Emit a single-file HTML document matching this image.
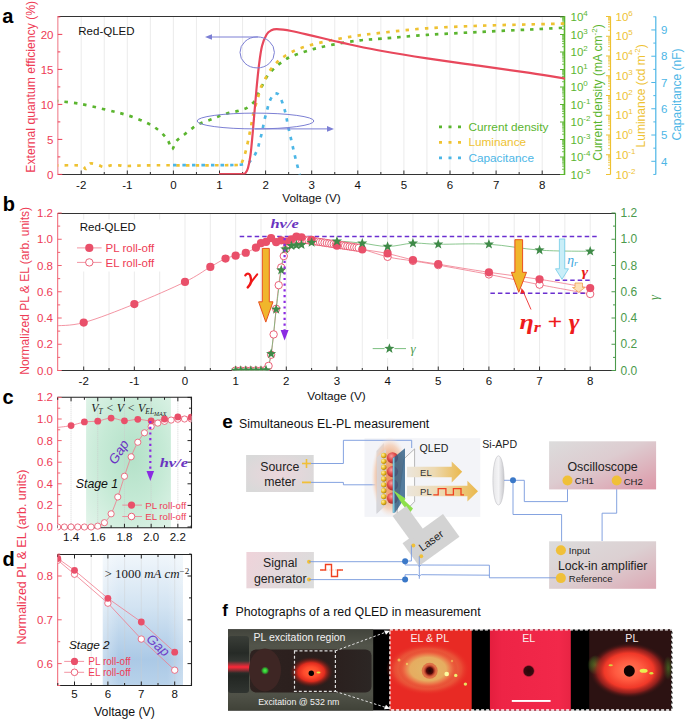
<!DOCTYPE html>
<html><head><meta charset="utf-8"><style>
html,body{margin:0;padding:0;background:#fff;width:685px;height:720px;overflow:hidden}
svg{display:block}
text{white-space:pre}
</style></head><body>
<svg width="685" height="720" viewBox="0 0 685 720">
<rect x="0" y="0" width="685" height="720" fill="#fff"/>
<g id="pa">
<line x1="81.2" y1="16.5" x2="81.2" y2="174.5" stroke="#cdcdcd" stroke-width="0.8" stroke-linecap="butt" stroke-dasharray="1 1" />
<line x1="104.25" y1="16.5" x2="104.25" y2="174.5" stroke="#cdcdcd" stroke-width="0.8" stroke-linecap="butt" stroke-dasharray="1 1" />
<line x1="127.3" y1="16.5" x2="127.3" y2="174.5" stroke="#cdcdcd" stroke-width="0.8" stroke-linecap="butt" stroke-dasharray="1 1" />
<line x1="150.35" y1="16.5" x2="150.35" y2="174.5" stroke="#cdcdcd" stroke-width="0.8" stroke-linecap="butt" stroke-dasharray="1 1" />
<line x1="173.4" y1="16.5" x2="173.4" y2="174.5" stroke="#cdcdcd" stroke-width="0.8" stroke-linecap="butt" stroke-dasharray="1 1" />
<line x1="196.45" y1="16.5" x2="196.45" y2="174.5" stroke="#cdcdcd" stroke-width="0.8" stroke-linecap="butt" stroke-dasharray="1 1" />
<line x1="219.5" y1="16.5" x2="219.5" y2="174.5" stroke="#cdcdcd" stroke-width="0.8" stroke-linecap="butt" stroke-dasharray="1 1" />
<line x1="242.55" y1="16.5" x2="242.55" y2="174.5" stroke="#cdcdcd" stroke-width="0.8" stroke-linecap="butt" stroke-dasharray="1 1" />
<line x1="265.6" y1="16.5" x2="265.6" y2="174.5" stroke="#cdcdcd" stroke-width="0.8" stroke-linecap="butt" stroke-dasharray="1 1" />
<line x1="288.65" y1="16.5" x2="288.65" y2="174.5" stroke="#cdcdcd" stroke-width="0.8" stroke-linecap="butt" stroke-dasharray="1 1" />
<line x1="311.7" y1="16.5" x2="311.7" y2="174.5" stroke="#cdcdcd" stroke-width="0.8" stroke-linecap="butt" stroke-dasharray="1 1" />
<line x1="334.75" y1="16.5" x2="334.75" y2="174.5" stroke="#cdcdcd" stroke-width="0.8" stroke-linecap="butt" stroke-dasharray="1 1" />
<line x1="357.8" y1="16.5" x2="357.8" y2="174.5" stroke="#cdcdcd" stroke-width="0.8" stroke-linecap="butt" stroke-dasharray="1 1" />
<line x1="380.85" y1="16.5" x2="380.85" y2="174.5" stroke="#cdcdcd" stroke-width="0.8" stroke-linecap="butt" stroke-dasharray="1 1" />
<line x1="403.9" y1="16.5" x2="403.9" y2="174.5" stroke="#cdcdcd" stroke-width="0.8" stroke-linecap="butt" stroke-dasharray="1 1" />
<line x1="426.95" y1="16.5" x2="426.95" y2="174.5" stroke="#cdcdcd" stroke-width="0.8" stroke-linecap="butt" stroke-dasharray="1 1" />
<line x1="450" y1="16.5" x2="450" y2="174.5" stroke="#cdcdcd" stroke-width="0.8" stroke-linecap="butt" stroke-dasharray="1 1" />
<line x1="473.05" y1="16.5" x2="473.05" y2="174.5" stroke="#cdcdcd" stroke-width="0.8" stroke-linecap="butt" stroke-dasharray="1 1" />
<line x1="496.1" y1="16.5" x2="496.1" y2="174.5" stroke="#cdcdcd" stroke-width="0.8" stroke-linecap="butt" stroke-dasharray="1 1" />
<line x1="519.15" y1="16.5" x2="519.15" y2="174.5" stroke="#cdcdcd" stroke-width="0.8" stroke-linecap="butt" stroke-dasharray="1 1" />
<line x1="542.2" y1="16.5" x2="542.2" y2="174.5" stroke="#cdcdcd" stroke-width="0.8" stroke-linecap="butt" stroke-dasharray="1 1" />
<line x1="57.8" y1="16.5" x2="565" y2="16.5" stroke="#333" stroke-width="1.1" stroke-linecap="butt" />
<line x1="57.8" y1="174.5" x2="565" y2="174.5" stroke="#333" stroke-width="1.1" stroke-linecap="butt" />
<line x1="57.8" y1="16" x2="57.8" y2="175" stroke="#f4a2ac" stroke-width="1.5" stroke-linecap="butt" />
<line x1="81.2" y1="174.5" x2="81.2" y2="170.5" stroke="#333" stroke-width="1" stroke-linecap="butt" />
<line x1="104.25" y1="174.5" x2="104.25" y2="172" stroke="#333" stroke-width="1" stroke-linecap="butt" />
<line x1="127.3" y1="174.5" x2="127.3" y2="170.5" stroke="#333" stroke-width="1" stroke-linecap="butt" />
<line x1="150.35" y1="174.5" x2="150.35" y2="172" stroke="#333" stroke-width="1" stroke-linecap="butt" />
<line x1="173.4" y1="174.5" x2="173.4" y2="170.5" stroke="#333" stroke-width="1" stroke-linecap="butt" />
<line x1="196.45" y1="174.5" x2="196.45" y2="172" stroke="#333" stroke-width="1" stroke-linecap="butt" />
<line x1="219.5" y1="174.5" x2="219.5" y2="170.5" stroke="#333" stroke-width="1" stroke-linecap="butt" />
<line x1="242.55" y1="174.5" x2="242.55" y2="172" stroke="#333" stroke-width="1" stroke-linecap="butt" />
<line x1="265.6" y1="174.5" x2="265.6" y2="170.5" stroke="#333" stroke-width="1" stroke-linecap="butt" />
<line x1="288.65" y1="174.5" x2="288.65" y2="172" stroke="#333" stroke-width="1" stroke-linecap="butt" />
<line x1="311.7" y1="174.5" x2="311.7" y2="170.5" stroke="#333" stroke-width="1" stroke-linecap="butt" />
<line x1="334.75" y1="174.5" x2="334.75" y2="172" stroke="#333" stroke-width="1" stroke-linecap="butt" />
<line x1="357.8" y1="174.5" x2="357.8" y2="170.5" stroke="#333" stroke-width="1" stroke-linecap="butt" />
<line x1="380.85" y1="174.5" x2="380.85" y2="172" stroke="#333" stroke-width="1" stroke-linecap="butt" />
<line x1="403.9" y1="174.5" x2="403.9" y2="170.5" stroke="#333" stroke-width="1" stroke-linecap="butt" />
<line x1="426.95" y1="174.5" x2="426.95" y2="172" stroke="#333" stroke-width="1" stroke-linecap="butt" />
<line x1="450" y1="174.5" x2="450" y2="170.5" stroke="#333" stroke-width="1" stroke-linecap="butt" />
<line x1="473.05" y1="174.5" x2="473.05" y2="172" stroke="#333" stroke-width="1" stroke-linecap="butt" />
<line x1="496.1" y1="174.5" x2="496.1" y2="170.5" stroke="#333" stroke-width="1" stroke-linecap="butt" />
<line x1="519.15" y1="174.5" x2="519.15" y2="172" stroke="#333" stroke-width="1" stroke-linecap="butt" />
<line x1="542.2" y1="174.5" x2="542.2" y2="170.5" stroke="#333" stroke-width="1" stroke-linecap="butt" />
<text x="81.2" y="189" font-family="'Liberation Sans', sans-serif" font-size="11.5" fill="#111" text-anchor="middle" font-weight="normal" font-style="normal" >-2</text>
<text x="127.3" y="189" font-family="'Liberation Sans', sans-serif" font-size="11.5" fill="#111" text-anchor="middle" font-weight="normal" font-style="normal" >-1</text>
<text x="173.4" y="189" font-family="'Liberation Sans', sans-serif" font-size="11.5" fill="#111" text-anchor="middle" font-weight="normal" font-style="normal" >0</text>
<text x="219.5" y="189" font-family="'Liberation Sans', sans-serif" font-size="11.5" fill="#111" text-anchor="middle" font-weight="normal" font-style="normal" >1</text>
<text x="265.6" y="189" font-family="'Liberation Sans', sans-serif" font-size="11.5" fill="#111" text-anchor="middle" font-weight="normal" font-style="normal" >2</text>
<text x="311.7" y="189" font-family="'Liberation Sans', sans-serif" font-size="11.5" fill="#111" text-anchor="middle" font-weight="normal" font-style="normal" >3</text>
<text x="357.8" y="189" font-family="'Liberation Sans', sans-serif" font-size="11.5" fill="#111" text-anchor="middle" font-weight="normal" font-style="normal" >4</text>
<text x="403.9" y="189" font-family="'Liberation Sans', sans-serif" font-size="11.5" fill="#111" text-anchor="middle" font-weight="normal" font-style="normal" >5</text>
<text x="450" y="189" font-family="'Liberation Sans', sans-serif" font-size="11.5" fill="#111" text-anchor="middle" font-weight="normal" font-style="normal" >6</text>
<text x="496.1" y="189" font-family="'Liberation Sans', sans-serif" font-size="11.5" fill="#111" text-anchor="middle" font-weight="normal" font-style="normal" >7</text>
<text x="542.2" y="189" font-family="'Liberation Sans', sans-serif" font-size="11.5" fill="#111" text-anchor="middle" font-weight="normal" font-style="normal" >8</text>
<text x="311.5" y="202.3" font-family="'Liberation Sans', sans-serif" font-size="11.8" fill="#111" text-anchor="middle" font-weight="normal" font-style="normal" >Voltage (V)</text>
<line x1="57.8" y1="174.4" x2="62.3" y2="174.4" stroke="#ee3b55" stroke-width="1" stroke-linecap="butt" />
<line x1="57.8" y1="156.9" x2="60.3" y2="156.9" stroke="#ee3b55" stroke-width="1" stroke-linecap="butt" />
<text x="53.5" y="178.5" font-family="'Liberation Sans', sans-serif" font-size="11.5" fill="#ee3b55" text-anchor="end" font-weight="normal" font-style="normal" >0</text>
<line x1="57.8" y1="139.4" x2="62.3" y2="139.4" stroke="#ee3b55" stroke-width="1" stroke-linecap="butt" />
<line x1="57.8" y1="121.9" x2="60.3" y2="121.9" stroke="#ee3b55" stroke-width="1" stroke-linecap="butt" />
<text x="53.5" y="143.5" font-family="'Liberation Sans', sans-serif" font-size="11.5" fill="#ee3b55" text-anchor="end" font-weight="normal" font-style="normal" >5</text>
<line x1="57.8" y1="104.4" x2="62.3" y2="104.4" stroke="#ee3b55" stroke-width="1" stroke-linecap="butt" />
<line x1="57.8" y1="86.9" x2="60.3" y2="86.9" stroke="#ee3b55" stroke-width="1" stroke-linecap="butt" />
<text x="53.5" y="108.5" font-family="'Liberation Sans', sans-serif" font-size="11.5" fill="#ee3b55" text-anchor="end" font-weight="normal" font-style="normal" >10</text>
<line x1="57.8" y1="69.4" x2="62.3" y2="69.4" stroke="#ee3b55" stroke-width="1" stroke-linecap="butt" />
<line x1="57.8" y1="51.9" x2="60.3" y2="51.9" stroke="#ee3b55" stroke-width="1" stroke-linecap="butt" />
<text x="53.5" y="73.5" font-family="'Liberation Sans', sans-serif" font-size="11.5" fill="#ee3b55" text-anchor="end" font-weight="normal" font-style="normal" >15</text>
<line x1="57.8" y1="34.4" x2="62.3" y2="34.4" stroke="#ee3b55" stroke-width="1" stroke-linecap="butt" />
<line x1="57.8" y1="16.9" x2="60.3" y2="16.9" stroke="#ee3b55" stroke-width="1" stroke-linecap="butt" />
<text x="53.5" y="38.5" font-family="'Liberation Sans', sans-serif" font-size="11.5" fill="#ee3b55" text-anchor="end" font-weight="normal" font-style="normal" >20</text>
<text x="35.3" y="86.8" font-family="'Liberation Sans', sans-serif" font-size="12.2" fill="#ee3b55" text-anchor="middle" font-weight="normal" font-style="normal" transform="rotate(-90 35.3 86.8)" >External quantum efficiency (%)</text>
<line x1="564.5" y1="16" x2="564.5" y2="175" stroke="#5bb52f" stroke-width="1.6" stroke-linecap="butt" />
<line x1="564.5" y1="174.5" x2="560" y2="174.5" stroke="#5bb52f" stroke-width="1" stroke-linecap="butt" />
<line x1="564.5" y1="169.23" x2="562" y2="169.23" stroke="#5bb52f" stroke-width="0.8" stroke-linecap="butt" />
<line x1="564.5" y1="166.15" x2="562" y2="166.15" stroke="#5bb52f" stroke-width="0.8" stroke-linecap="butt" />
<line x1="564.5" y1="163.96" x2="562" y2="163.96" stroke="#5bb52f" stroke-width="0.8" stroke-linecap="butt" />
<line x1="564.5" y1="162.27" x2="562" y2="162.27" stroke="#5bb52f" stroke-width="0.8" stroke-linecap="butt" />
<line x1="564.5" y1="160.88" x2="562" y2="160.88" stroke="#5bb52f" stroke-width="0.8" stroke-linecap="butt" />
<line x1="564.5" y1="159.71" x2="562" y2="159.71" stroke="#5bb52f" stroke-width="0.8" stroke-linecap="butt" />
<line x1="564.5" y1="158.7" x2="562" y2="158.7" stroke="#5bb52f" stroke-width="0.8" stroke-linecap="butt" />
<line x1="564.5" y1="157.8" x2="562" y2="157.8" stroke="#5bb52f" stroke-width="0.8" stroke-linecap="butt" />
<text x="570.5" y="178.7" font-family="'Liberation Sans', sans-serif" font-size="11.5" fill="#5bb52f" text-anchor="start" font-weight="normal" font-style="normal" >10<tspan dy="-5" font-size="8">-5</tspan></text>
<line x1="564.5" y1="157" x2="560" y2="157" stroke="#5bb52f" stroke-width="1" stroke-linecap="butt" />
<line x1="564.5" y1="151.73" x2="562" y2="151.73" stroke="#5bb52f" stroke-width="0.8" stroke-linecap="butt" />
<line x1="564.5" y1="148.65" x2="562" y2="148.65" stroke="#5bb52f" stroke-width="0.8" stroke-linecap="butt" />
<line x1="564.5" y1="146.46" x2="562" y2="146.46" stroke="#5bb52f" stroke-width="0.8" stroke-linecap="butt" />
<line x1="564.5" y1="144.77" x2="562" y2="144.77" stroke="#5bb52f" stroke-width="0.8" stroke-linecap="butt" />
<line x1="564.5" y1="143.38" x2="562" y2="143.38" stroke="#5bb52f" stroke-width="0.8" stroke-linecap="butt" />
<line x1="564.5" y1="142.21" x2="562" y2="142.21" stroke="#5bb52f" stroke-width="0.8" stroke-linecap="butt" />
<line x1="564.5" y1="141.2" x2="562" y2="141.2" stroke="#5bb52f" stroke-width="0.8" stroke-linecap="butt" />
<line x1="564.5" y1="140.3" x2="562" y2="140.3" stroke="#5bb52f" stroke-width="0.8" stroke-linecap="butt" />
<text x="570.5" y="161.2" font-family="'Liberation Sans', sans-serif" font-size="11.5" fill="#5bb52f" text-anchor="start" font-weight="normal" font-style="normal" >10<tspan dy="-5" font-size="8">-4</tspan></text>
<line x1="564.5" y1="139.5" x2="560" y2="139.5" stroke="#5bb52f" stroke-width="1" stroke-linecap="butt" />
<line x1="564.5" y1="134.23" x2="562" y2="134.23" stroke="#5bb52f" stroke-width="0.8" stroke-linecap="butt" />
<line x1="564.5" y1="131.15" x2="562" y2="131.15" stroke="#5bb52f" stroke-width="0.8" stroke-linecap="butt" />
<line x1="564.5" y1="128.96" x2="562" y2="128.96" stroke="#5bb52f" stroke-width="0.8" stroke-linecap="butt" />
<line x1="564.5" y1="127.27" x2="562" y2="127.27" stroke="#5bb52f" stroke-width="0.8" stroke-linecap="butt" />
<line x1="564.5" y1="125.88" x2="562" y2="125.88" stroke="#5bb52f" stroke-width="0.8" stroke-linecap="butt" />
<line x1="564.5" y1="124.71" x2="562" y2="124.71" stroke="#5bb52f" stroke-width="0.8" stroke-linecap="butt" />
<line x1="564.5" y1="123.7" x2="562" y2="123.7" stroke="#5bb52f" stroke-width="0.8" stroke-linecap="butt" />
<line x1="564.5" y1="122.8" x2="562" y2="122.8" stroke="#5bb52f" stroke-width="0.8" stroke-linecap="butt" />
<text x="570.5" y="143.7" font-family="'Liberation Sans', sans-serif" font-size="11.5" fill="#5bb52f" text-anchor="start" font-weight="normal" font-style="normal" >10<tspan dy="-5" font-size="8">-3</tspan></text>
<line x1="564.5" y1="122" x2="560" y2="122" stroke="#5bb52f" stroke-width="1" stroke-linecap="butt" />
<line x1="564.5" y1="116.73" x2="562" y2="116.73" stroke="#5bb52f" stroke-width="0.8" stroke-linecap="butt" />
<line x1="564.5" y1="113.65" x2="562" y2="113.65" stroke="#5bb52f" stroke-width="0.8" stroke-linecap="butt" />
<line x1="564.5" y1="111.46" x2="562" y2="111.46" stroke="#5bb52f" stroke-width="0.8" stroke-linecap="butt" />
<line x1="564.5" y1="109.77" x2="562" y2="109.77" stroke="#5bb52f" stroke-width="0.8" stroke-linecap="butt" />
<line x1="564.5" y1="108.38" x2="562" y2="108.38" stroke="#5bb52f" stroke-width="0.8" stroke-linecap="butt" />
<line x1="564.5" y1="107.21" x2="562" y2="107.21" stroke="#5bb52f" stroke-width="0.8" stroke-linecap="butt" />
<line x1="564.5" y1="106.2" x2="562" y2="106.2" stroke="#5bb52f" stroke-width="0.8" stroke-linecap="butt" />
<line x1="564.5" y1="105.3" x2="562" y2="105.3" stroke="#5bb52f" stroke-width="0.8" stroke-linecap="butt" />
<text x="570.5" y="126.2" font-family="'Liberation Sans', sans-serif" font-size="11.5" fill="#5bb52f" text-anchor="start" font-weight="normal" font-style="normal" >10<tspan dy="-5" font-size="8">-2</tspan></text>
<line x1="564.5" y1="104.5" x2="560" y2="104.5" stroke="#5bb52f" stroke-width="1" stroke-linecap="butt" />
<line x1="564.5" y1="99.23" x2="562" y2="99.23" stroke="#5bb52f" stroke-width="0.8" stroke-linecap="butt" />
<line x1="564.5" y1="96.15" x2="562" y2="96.15" stroke="#5bb52f" stroke-width="0.8" stroke-linecap="butt" />
<line x1="564.5" y1="93.96" x2="562" y2="93.96" stroke="#5bb52f" stroke-width="0.8" stroke-linecap="butt" />
<line x1="564.5" y1="92.27" x2="562" y2="92.27" stroke="#5bb52f" stroke-width="0.8" stroke-linecap="butt" />
<line x1="564.5" y1="90.88" x2="562" y2="90.88" stroke="#5bb52f" stroke-width="0.8" stroke-linecap="butt" />
<line x1="564.5" y1="89.71" x2="562" y2="89.71" stroke="#5bb52f" stroke-width="0.8" stroke-linecap="butt" />
<line x1="564.5" y1="88.7" x2="562" y2="88.7" stroke="#5bb52f" stroke-width="0.8" stroke-linecap="butt" />
<line x1="564.5" y1="87.8" x2="562" y2="87.8" stroke="#5bb52f" stroke-width="0.8" stroke-linecap="butt" />
<text x="570.5" y="108.7" font-family="'Liberation Sans', sans-serif" font-size="11.5" fill="#5bb52f" text-anchor="start" font-weight="normal" font-style="normal" >10<tspan dy="-5" font-size="8">-1</tspan></text>
<line x1="564.5" y1="87" x2="560" y2="87" stroke="#5bb52f" stroke-width="1" stroke-linecap="butt" />
<line x1="564.5" y1="81.73" x2="562" y2="81.73" stroke="#5bb52f" stroke-width="0.8" stroke-linecap="butt" />
<line x1="564.5" y1="78.65" x2="562" y2="78.65" stroke="#5bb52f" stroke-width="0.8" stroke-linecap="butt" />
<line x1="564.5" y1="76.46" x2="562" y2="76.46" stroke="#5bb52f" stroke-width="0.8" stroke-linecap="butt" />
<line x1="564.5" y1="74.77" x2="562" y2="74.77" stroke="#5bb52f" stroke-width="0.8" stroke-linecap="butt" />
<line x1="564.5" y1="73.38" x2="562" y2="73.38" stroke="#5bb52f" stroke-width="0.8" stroke-linecap="butt" />
<line x1="564.5" y1="72.21" x2="562" y2="72.21" stroke="#5bb52f" stroke-width="0.8" stroke-linecap="butt" />
<line x1="564.5" y1="71.2" x2="562" y2="71.2" stroke="#5bb52f" stroke-width="0.8" stroke-linecap="butt" />
<line x1="564.5" y1="70.3" x2="562" y2="70.3" stroke="#5bb52f" stroke-width="0.8" stroke-linecap="butt" />
<text x="570.5" y="91.2" font-family="'Liberation Sans', sans-serif" font-size="11.5" fill="#5bb52f" text-anchor="start" font-weight="normal" font-style="normal" >10<tspan dy="-5" font-size="8">0</tspan></text>
<line x1="564.5" y1="69.5" x2="560" y2="69.5" stroke="#5bb52f" stroke-width="1" stroke-linecap="butt" />
<line x1="564.5" y1="64.23" x2="562" y2="64.23" stroke="#5bb52f" stroke-width="0.8" stroke-linecap="butt" />
<line x1="564.5" y1="61.15" x2="562" y2="61.15" stroke="#5bb52f" stroke-width="0.8" stroke-linecap="butt" />
<line x1="564.5" y1="58.96" x2="562" y2="58.96" stroke="#5bb52f" stroke-width="0.8" stroke-linecap="butt" />
<line x1="564.5" y1="57.27" x2="562" y2="57.27" stroke="#5bb52f" stroke-width="0.8" stroke-linecap="butt" />
<line x1="564.5" y1="55.88" x2="562" y2="55.88" stroke="#5bb52f" stroke-width="0.8" stroke-linecap="butt" />
<line x1="564.5" y1="54.71" x2="562" y2="54.71" stroke="#5bb52f" stroke-width="0.8" stroke-linecap="butt" />
<line x1="564.5" y1="53.7" x2="562" y2="53.7" stroke="#5bb52f" stroke-width="0.8" stroke-linecap="butt" />
<line x1="564.5" y1="52.8" x2="562" y2="52.8" stroke="#5bb52f" stroke-width="0.8" stroke-linecap="butt" />
<text x="570.5" y="73.7" font-family="'Liberation Sans', sans-serif" font-size="11.5" fill="#5bb52f" text-anchor="start" font-weight="normal" font-style="normal" >10<tspan dy="-5" font-size="8">1</tspan></text>
<line x1="564.5" y1="52" x2="560" y2="52" stroke="#5bb52f" stroke-width="1" stroke-linecap="butt" />
<line x1="564.5" y1="46.73" x2="562" y2="46.73" stroke="#5bb52f" stroke-width="0.8" stroke-linecap="butt" />
<line x1="564.5" y1="43.65" x2="562" y2="43.65" stroke="#5bb52f" stroke-width="0.8" stroke-linecap="butt" />
<line x1="564.5" y1="41.46" x2="562" y2="41.46" stroke="#5bb52f" stroke-width="0.8" stroke-linecap="butt" />
<line x1="564.5" y1="39.77" x2="562" y2="39.77" stroke="#5bb52f" stroke-width="0.8" stroke-linecap="butt" />
<line x1="564.5" y1="38.38" x2="562" y2="38.38" stroke="#5bb52f" stroke-width="0.8" stroke-linecap="butt" />
<line x1="564.5" y1="37.21" x2="562" y2="37.21" stroke="#5bb52f" stroke-width="0.8" stroke-linecap="butt" />
<line x1="564.5" y1="36.2" x2="562" y2="36.2" stroke="#5bb52f" stroke-width="0.8" stroke-linecap="butt" />
<line x1="564.5" y1="35.3" x2="562" y2="35.3" stroke="#5bb52f" stroke-width="0.8" stroke-linecap="butt" />
<text x="570.5" y="56.2" font-family="'Liberation Sans', sans-serif" font-size="11.5" fill="#5bb52f" text-anchor="start" font-weight="normal" font-style="normal" >10<tspan dy="-5" font-size="8">2</tspan></text>
<line x1="564.5" y1="34.5" x2="560" y2="34.5" stroke="#5bb52f" stroke-width="1" stroke-linecap="butt" />
<line x1="564.5" y1="29.23" x2="562" y2="29.23" stroke="#5bb52f" stroke-width="0.8" stroke-linecap="butt" />
<line x1="564.5" y1="26.15" x2="562" y2="26.15" stroke="#5bb52f" stroke-width="0.8" stroke-linecap="butt" />
<line x1="564.5" y1="23.96" x2="562" y2="23.96" stroke="#5bb52f" stroke-width="0.8" stroke-linecap="butt" />
<line x1="564.5" y1="22.27" x2="562" y2="22.27" stroke="#5bb52f" stroke-width="0.8" stroke-linecap="butt" />
<line x1="564.5" y1="20.88" x2="562" y2="20.88" stroke="#5bb52f" stroke-width="0.8" stroke-linecap="butt" />
<line x1="564.5" y1="19.71" x2="562" y2="19.71" stroke="#5bb52f" stroke-width="0.8" stroke-linecap="butt" />
<line x1="564.5" y1="18.7" x2="562" y2="18.7" stroke="#5bb52f" stroke-width="0.8" stroke-linecap="butt" />
<line x1="564.5" y1="17.8" x2="562" y2="17.8" stroke="#5bb52f" stroke-width="0.8" stroke-linecap="butt" />
<text x="570.5" y="38.7" font-family="'Liberation Sans', sans-serif" font-size="11.5" fill="#5bb52f" text-anchor="start" font-weight="normal" font-style="normal" >10<tspan dy="-5" font-size="8">3</tspan></text>
<line x1="564.5" y1="17" x2="560" y2="17" stroke="#5bb52f" stroke-width="1" stroke-linecap="butt" />
<text x="570.5" y="21.2" font-family="'Liberation Sans', sans-serif" font-size="11.5" fill="#5bb52f" text-anchor="start" font-weight="normal" font-style="normal" >10<tspan dy="-5" font-size="8">4</tspan></text>
<text x="601.5" y="92.5" font-family="'Liberation Sans', sans-serif" font-size="12" fill="#5bb52f" text-anchor="middle" font-weight="normal" font-style="normal" transform="rotate(-90 601.5 92.5)" >Current density (mA cm<tspan dy="-5" font-size="8">-2</tspan><tspan dy="5">)</tspan></text>
<line x1="610.5" y1="16.5" x2="610.5" y2="174.5" stroke="#eec232" stroke-width="1.2" stroke-linecap="butt" />
<line x1="610.5" y1="174.5" x2="606" y2="174.5" stroke="#eec232" stroke-width="1" stroke-linecap="butt" />
<line x1="610.5" y1="168.55" x2="608" y2="168.55" stroke="#eec232" stroke-width="0.8" stroke-linecap="butt" />
<line x1="610.5" y1="165.08" x2="608" y2="165.08" stroke="#eec232" stroke-width="0.8" stroke-linecap="butt" />
<line x1="610.5" y1="162.61" x2="608" y2="162.61" stroke="#eec232" stroke-width="0.8" stroke-linecap="butt" />
<line x1="610.5" y1="160.7" x2="608" y2="160.7" stroke="#eec232" stroke-width="0.8" stroke-linecap="butt" />
<line x1="610.5" y1="159.13" x2="608" y2="159.13" stroke="#eec232" stroke-width="0.8" stroke-linecap="butt" />
<line x1="610.5" y1="157.81" x2="608" y2="157.81" stroke="#eec232" stroke-width="0.8" stroke-linecap="butt" />
<line x1="610.5" y1="156.66" x2="608" y2="156.66" stroke="#eec232" stroke-width="0.8" stroke-linecap="butt" />
<line x1="610.5" y1="155.65" x2="608" y2="155.65" stroke="#eec232" stroke-width="0.8" stroke-linecap="butt" />
<text x="615.5" y="178.7" font-family="'Liberation Sans', sans-serif" font-size="11.5" fill="#eec232" text-anchor="start" font-weight="normal" font-style="normal" >10<tspan dy="-5" font-size="8">-2</tspan></text>
<line x1="610.5" y1="154.75" x2="606" y2="154.75" stroke="#eec232" stroke-width="1" stroke-linecap="butt" />
<line x1="610.5" y1="148.8" x2="608" y2="148.8" stroke="#eec232" stroke-width="0.8" stroke-linecap="butt" />
<line x1="610.5" y1="145.33" x2="608" y2="145.33" stroke="#eec232" stroke-width="0.8" stroke-linecap="butt" />
<line x1="610.5" y1="142.86" x2="608" y2="142.86" stroke="#eec232" stroke-width="0.8" stroke-linecap="butt" />
<line x1="610.5" y1="140.95" x2="608" y2="140.95" stroke="#eec232" stroke-width="0.8" stroke-linecap="butt" />
<line x1="610.5" y1="139.38" x2="608" y2="139.38" stroke="#eec232" stroke-width="0.8" stroke-linecap="butt" />
<line x1="610.5" y1="138.06" x2="608" y2="138.06" stroke="#eec232" stroke-width="0.8" stroke-linecap="butt" />
<line x1="610.5" y1="136.91" x2="608" y2="136.91" stroke="#eec232" stroke-width="0.8" stroke-linecap="butt" />
<line x1="610.5" y1="135.9" x2="608" y2="135.9" stroke="#eec232" stroke-width="0.8" stroke-linecap="butt" />
<text x="615.5" y="158.95" font-family="'Liberation Sans', sans-serif" font-size="11.5" fill="#eec232" text-anchor="start" font-weight="normal" font-style="normal" >10<tspan dy="-5" font-size="8">-1</tspan></text>
<line x1="610.5" y1="135" x2="606" y2="135" stroke="#eec232" stroke-width="1" stroke-linecap="butt" />
<line x1="610.5" y1="129.05" x2="608" y2="129.05" stroke="#eec232" stroke-width="0.8" stroke-linecap="butt" />
<line x1="610.5" y1="125.58" x2="608" y2="125.58" stroke="#eec232" stroke-width="0.8" stroke-linecap="butt" />
<line x1="610.5" y1="123.11" x2="608" y2="123.11" stroke="#eec232" stroke-width="0.8" stroke-linecap="butt" />
<line x1="610.5" y1="121.2" x2="608" y2="121.2" stroke="#eec232" stroke-width="0.8" stroke-linecap="butt" />
<line x1="610.5" y1="119.63" x2="608" y2="119.63" stroke="#eec232" stroke-width="0.8" stroke-linecap="butt" />
<line x1="610.5" y1="118.31" x2="608" y2="118.31" stroke="#eec232" stroke-width="0.8" stroke-linecap="butt" />
<line x1="610.5" y1="117.16" x2="608" y2="117.16" stroke="#eec232" stroke-width="0.8" stroke-linecap="butt" />
<line x1="610.5" y1="116.15" x2="608" y2="116.15" stroke="#eec232" stroke-width="0.8" stroke-linecap="butt" />
<text x="615.5" y="139.2" font-family="'Liberation Sans', sans-serif" font-size="11.5" fill="#eec232" text-anchor="start" font-weight="normal" font-style="normal" >10<tspan dy="-5" font-size="8">0</tspan></text>
<line x1="610.5" y1="115.25" x2="606" y2="115.25" stroke="#eec232" stroke-width="1" stroke-linecap="butt" />
<line x1="610.5" y1="109.3" x2="608" y2="109.3" stroke="#eec232" stroke-width="0.8" stroke-linecap="butt" />
<line x1="610.5" y1="105.83" x2="608" y2="105.83" stroke="#eec232" stroke-width="0.8" stroke-linecap="butt" />
<line x1="610.5" y1="103.36" x2="608" y2="103.36" stroke="#eec232" stroke-width="0.8" stroke-linecap="butt" />
<line x1="610.5" y1="101.45" x2="608" y2="101.45" stroke="#eec232" stroke-width="0.8" stroke-linecap="butt" />
<line x1="610.5" y1="99.88" x2="608" y2="99.88" stroke="#eec232" stroke-width="0.8" stroke-linecap="butt" />
<line x1="610.5" y1="98.56" x2="608" y2="98.56" stroke="#eec232" stroke-width="0.8" stroke-linecap="butt" />
<line x1="610.5" y1="97.41" x2="608" y2="97.41" stroke="#eec232" stroke-width="0.8" stroke-linecap="butt" />
<line x1="610.5" y1="96.4" x2="608" y2="96.4" stroke="#eec232" stroke-width="0.8" stroke-linecap="butt" />
<text x="615.5" y="119.45" font-family="'Liberation Sans', sans-serif" font-size="11.5" fill="#eec232" text-anchor="start" font-weight="normal" font-style="normal" >10<tspan dy="-5" font-size="8">1</tspan></text>
<line x1="610.5" y1="95.5" x2="606" y2="95.5" stroke="#eec232" stroke-width="1" stroke-linecap="butt" />
<line x1="610.5" y1="89.55" x2="608" y2="89.55" stroke="#eec232" stroke-width="0.8" stroke-linecap="butt" />
<line x1="610.5" y1="86.08" x2="608" y2="86.08" stroke="#eec232" stroke-width="0.8" stroke-linecap="butt" />
<line x1="610.5" y1="83.61" x2="608" y2="83.61" stroke="#eec232" stroke-width="0.8" stroke-linecap="butt" />
<line x1="610.5" y1="81.7" x2="608" y2="81.7" stroke="#eec232" stroke-width="0.8" stroke-linecap="butt" />
<line x1="610.5" y1="80.13" x2="608" y2="80.13" stroke="#eec232" stroke-width="0.8" stroke-linecap="butt" />
<line x1="610.5" y1="78.81" x2="608" y2="78.81" stroke="#eec232" stroke-width="0.8" stroke-linecap="butt" />
<line x1="610.5" y1="77.66" x2="608" y2="77.66" stroke="#eec232" stroke-width="0.8" stroke-linecap="butt" />
<line x1="610.5" y1="76.65" x2="608" y2="76.65" stroke="#eec232" stroke-width="0.8" stroke-linecap="butt" />
<text x="615.5" y="99.7" font-family="'Liberation Sans', sans-serif" font-size="11.5" fill="#eec232" text-anchor="start" font-weight="normal" font-style="normal" >10<tspan dy="-5" font-size="8">2</tspan></text>
<line x1="610.5" y1="75.75" x2="606" y2="75.75" stroke="#eec232" stroke-width="1" stroke-linecap="butt" />
<line x1="610.5" y1="69.8" x2="608" y2="69.8" stroke="#eec232" stroke-width="0.8" stroke-linecap="butt" />
<line x1="610.5" y1="66.33" x2="608" y2="66.33" stroke="#eec232" stroke-width="0.8" stroke-linecap="butt" />
<line x1="610.5" y1="63.86" x2="608" y2="63.86" stroke="#eec232" stroke-width="0.8" stroke-linecap="butt" />
<line x1="610.5" y1="61.95" x2="608" y2="61.95" stroke="#eec232" stroke-width="0.8" stroke-linecap="butt" />
<line x1="610.5" y1="60.38" x2="608" y2="60.38" stroke="#eec232" stroke-width="0.8" stroke-linecap="butt" />
<line x1="610.5" y1="59.06" x2="608" y2="59.06" stroke="#eec232" stroke-width="0.8" stroke-linecap="butt" />
<line x1="610.5" y1="57.91" x2="608" y2="57.91" stroke="#eec232" stroke-width="0.8" stroke-linecap="butt" />
<line x1="610.5" y1="56.9" x2="608" y2="56.9" stroke="#eec232" stroke-width="0.8" stroke-linecap="butt" />
<text x="615.5" y="79.95" font-family="'Liberation Sans', sans-serif" font-size="11.5" fill="#eec232" text-anchor="start" font-weight="normal" font-style="normal" >10<tspan dy="-5" font-size="8">3</tspan></text>
<line x1="610.5" y1="56" x2="606" y2="56" stroke="#eec232" stroke-width="1" stroke-linecap="butt" />
<line x1="610.5" y1="50.05" x2="608" y2="50.05" stroke="#eec232" stroke-width="0.8" stroke-linecap="butt" />
<line x1="610.5" y1="46.58" x2="608" y2="46.58" stroke="#eec232" stroke-width="0.8" stroke-linecap="butt" />
<line x1="610.5" y1="44.11" x2="608" y2="44.11" stroke="#eec232" stroke-width="0.8" stroke-linecap="butt" />
<line x1="610.5" y1="42.2" x2="608" y2="42.2" stroke="#eec232" stroke-width="0.8" stroke-linecap="butt" />
<line x1="610.5" y1="40.63" x2="608" y2="40.63" stroke="#eec232" stroke-width="0.8" stroke-linecap="butt" />
<line x1="610.5" y1="39.31" x2="608" y2="39.31" stroke="#eec232" stroke-width="0.8" stroke-linecap="butt" />
<line x1="610.5" y1="38.16" x2="608" y2="38.16" stroke="#eec232" stroke-width="0.8" stroke-linecap="butt" />
<line x1="610.5" y1="37.15" x2="608" y2="37.15" stroke="#eec232" stroke-width="0.8" stroke-linecap="butt" />
<text x="615.5" y="60.2" font-family="'Liberation Sans', sans-serif" font-size="11.5" fill="#eec232" text-anchor="start" font-weight="normal" font-style="normal" >10<tspan dy="-5" font-size="8">4</tspan></text>
<line x1="610.5" y1="36.25" x2="606" y2="36.25" stroke="#eec232" stroke-width="1" stroke-linecap="butt" />
<line x1="610.5" y1="30.3" x2="608" y2="30.3" stroke="#eec232" stroke-width="0.8" stroke-linecap="butt" />
<line x1="610.5" y1="26.83" x2="608" y2="26.83" stroke="#eec232" stroke-width="0.8" stroke-linecap="butt" />
<line x1="610.5" y1="24.36" x2="608" y2="24.36" stroke="#eec232" stroke-width="0.8" stroke-linecap="butt" />
<line x1="610.5" y1="22.45" x2="608" y2="22.45" stroke="#eec232" stroke-width="0.8" stroke-linecap="butt" />
<line x1="610.5" y1="20.88" x2="608" y2="20.88" stroke="#eec232" stroke-width="0.8" stroke-linecap="butt" />
<line x1="610.5" y1="19.56" x2="608" y2="19.56" stroke="#eec232" stroke-width="0.8" stroke-linecap="butt" />
<line x1="610.5" y1="18.41" x2="608" y2="18.41" stroke="#eec232" stroke-width="0.8" stroke-linecap="butt" />
<line x1="610.5" y1="17.4" x2="608" y2="17.4" stroke="#eec232" stroke-width="0.8" stroke-linecap="butt" />
<text x="615.5" y="40.45" font-family="'Liberation Sans', sans-serif" font-size="11.5" fill="#eec232" text-anchor="start" font-weight="normal" font-style="normal" >10<tspan dy="-5" font-size="8">5</tspan></text>
<line x1="610.5" y1="16.5" x2="606" y2="16.5" stroke="#eec232" stroke-width="1" stroke-linecap="butt" />
<text x="615.5" y="20.7" font-family="'Liberation Sans', sans-serif" font-size="11.5" fill="#eec232" text-anchor="start" font-weight="normal" font-style="normal" >10<tspan dy="-5" font-size="8">6</tspan></text>
<text x="644.8" y="95.8" font-family="'Liberation Sans', sans-serif" font-size="12" fill="#eec232" text-anchor="middle" font-weight="normal" font-style="normal" transform="rotate(-90 644.8 95.8)" >Luminance (cd m<tspan dy="-5" font-size="8">-2</tspan><tspan dy="5">)</tspan></text>
<line x1="655.8" y1="16.5" x2="655.8" y2="174.5" stroke="#4cb6e6" stroke-width="1.2" stroke-linecap="butt" />
<line x1="655.8" y1="161.3" x2="651.3" y2="161.3" stroke="#4cb6e6" stroke-width="1" stroke-linecap="butt" />
<line x1="655.8" y1="174.44" x2="653.3" y2="174.44" stroke="#4cb6e6" stroke-width="1" stroke-linecap="butt" />
<text x="661" y="165.5" font-family="'Liberation Sans', sans-serif" font-size="11.5" fill="#4cb6e6" text-anchor="start" font-weight="normal" font-style="normal" >4</text>
<line x1="655.8" y1="135.03" x2="651.3" y2="135.03" stroke="#4cb6e6" stroke-width="1" stroke-linecap="butt" />
<line x1="655.8" y1="148.17" x2="653.3" y2="148.17" stroke="#4cb6e6" stroke-width="1" stroke-linecap="butt" />
<text x="661" y="139.23" font-family="'Liberation Sans', sans-serif" font-size="11.5" fill="#4cb6e6" text-anchor="start" font-weight="normal" font-style="normal" >5</text>
<line x1="655.8" y1="108.76" x2="651.3" y2="108.76" stroke="#4cb6e6" stroke-width="1" stroke-linecap="butt" />
<line x1="655.8" y1="121.9" x2="653.3" y2="121.9" stroke="#4cb6e6" stroke-width="1" stroke-linecap="butt" />
<text x="661" y="112.96" font-family="'Liberation Sans', sans-serif" font-size="11.5" fill="#4cb6e6" text-anchor="start" font-weight="normal" font-style="normal" >6</text>
<line x1="655.8" y1="82.49" x2="651.3" y2="82.49" stroke="#4cb6e6" stroke-width="1" stroke-linecap="butt" />
<line x1="655.8" y1="95.63" x2="653.3" y2="95.63" stroke="#4cb6e6" stroke-width="1" stroke-linecap="butt" />
<text x="661" y="86.69" font-family="'Liberation Sans', sans-serif" font-size="11.5" fill="#4cb6e6" text-anchor="start" font-weight="normal" font-style="normal" >7</text>
<line x1="655.8" y1="56.22" x2="651.3" y2="56.22" stroke="#4cb6e6" stroke-width="1" stroke-linecap="butt" />
<line x1="655.8" y1="69.36" x2="653.3" y2="69.36" stroke="#4cb6e6" stroke-width="1" stroke-linecap="butt" />
<text x="661" y="60.42" font-family="'Liberation Sans', sans-serif" font-size="11.5" fill="#4cb6e6" text-anchor="start" font-weight="normal" font-style="normal" >8</text>
<line x1="655.8" y1="29.95" x2="651.3" y2="29.95" stroke="#4cb6e6" stroke-width="1" stroke-linecap="butt" />
<line x1="655.8" y1="43.09" x2="653.3" y2="43.09" stroke="#4cb6e6" stroke-width="1" stroke-linecap="butt" />
<text x="661" y="34.15" font-family="'Liberation Sans', sans-serif" font-size="11.5" fill="#4cb6e6" text-anchor="start" font-weight="normal" font-style="normal" >9</text>
<line x1="655.8" y1="16.82" x2="653.3" y2="16.82" stroke="#4cb6e6" stroke-width="1" stroke-linecap="butt" />
<text x="681" y="94.5" font-family="'Liberation Sans', sans-serif" font-size="12" fill="#4cb6e6" text-anchor="middle" font-weight="normal" font-style="normal" transform="rotate(-90 681 94.5)" >Capacitance (nF)</text>
<text x="78.3" y="34.5" font-family="'Liberation Sans', sans-serif" font-size="11.5" fill="#111" text-anchor="start" font-weight="normal" font-style="normal" >Red-QLED</text>
<clipPath id="clipA"><rect x="57.8" y="16.5" width="507.2" height="158.0"/></clipPath>
<g clip-path="url(#clipA)">
<path d="M55,100.8 C59.07,101.28 70.78,102.18 79.4,103.7 C88.02,105.22 98.83,108.02 106.7,109.9 C114.57,111.78 120.22,112.98 126.6,115 C132.98,117.02 139.93,119.67 145,122 C150.07,124.33 153.67,126.58 157,129 C160.33,131.42 163.08,134.42 165,136.5 C166.92,138.58 167.33,139.33 168.5,141.5 C169.67,143.67 170.67,149.58 172,149.5 C173.33,149.42 174.43,143.5 176.5,141 C178.57,138.5 181.77,136.62 184.4,134.5 C187.03,132.38 189.53,130.2 192.3,128.3 C195.07,126.4 197.93,124.55 201,123.1 C204.07,121.65 207.63,120.77 210.7,119.6 C213.77,118.43 216.35,117.22 219.4,116.1 C222.45,114.98 225.78,113.78 229,112.9 C232.22,112.02 235.63,111.67 238.7,110.8 C241.77,109.93 244.77,109.3 247.4,107.7 C250.03,106.1 252.6,103.75 254.5,101.2 C256.4,98.65 257.35,95.32 258.8,92.4 C260.25,89.48 261.73,86.47 263.2,83.7 C264.67,80.93 265.7,78.43 267.6,75.8 C269.5,73.17 272.12,70.23 274.6,67.9 C277.08,65.57 279.7,63.7 282.5,61.8 C285.3,59.9 286.52,58.55 291.4,56.5 C296.28,54.45 304.5,51.55 311.8,49.5 C319.1,47.45 327.17,45.73 335.2,44.2 C343.23,42.67 352.2,41.23 360,40.3 C367.8,39.37 370.83,39.5 382,38.6 C393.17,37.7 410.92,36 427,34.9 C443.08,33.8 461.37,32.9 478.5,32 C495.63,31.1 514.88,30.25 529.8,29.5 C544.72,28.75 561.63,27.83 568,27.5" fill="none" stroke="#5bb52f" stroke-width="2.7" stroke-dasharray="3.5 6"/>
<path d="M55,165.5 C59.17,165.5 74.83,164.92 80,165.5 C85.17,166.08 84.33,169.33 86,169 C87.67,168.67 88,164.17 90,163.5 C92,162.83 95.67,164.42 98,165 C100.33,165.58 101.83,166.95 104,167 C106.17,167.05 108.5,165.58 111,165.3 C113.5,165.02 116.5,165.18 119,165.3 C121.5,165.42 120.83,166 126,166 C131.17,166 137.67,165.42 150,165.3 C162.33,165.18 185.33,165.35 200,165.3 C214.67,165.25 231.12,165.32 238,165 C244.88,164.68 240.17,165.13 241.3,163.4 C242.43,161.67 243.78,157.82 244.8,154.6 C245.82,151.38 246.67,147.32 247.4,144.1 C248.13,140.88 248.6,138.22 249.2,135.3 C249.8,132.38 250.42,129.67 251,126.6 C251.58,123.53 251.98,120.27 252.7,116.9 C253.42,113.53 254.42,109.6 255.3,106.4 C256.18,103.2 257.12,100.77 258,97.7 C258.88,94.63 259.73,90.48 260.6,88 C261.47,85.52 262.47,84.25 263.2,82.8 C263.93,81.35 263.98,81.2 265,79.3 C266.02,77.4 267.55,73.97 269.3,71.4 C271.05,68.83 273.28,66.22 275.5,63.9 C277.72,61.58 278.98,59.9 282.6,57.5 C286.22,55.1 291.35,51.88 297.2,49.5 C303.05,47.12 308.9,45.32 317.7,43.2 C326.5,41.08 339.28,38.55 350,36.8 C360.72,35.05 369.17,34.12 382,32.7 C394.83,31.28 410.92,29.45 427,28.3 C443.08,27.15 461.37,26.45 478.5,25.8 C495.63,25.15 514.88,24.78 529.8,24.4 C544.72,24.02 561.63,23.65 568,23.5" fill="none" stroke="#eec232" stroke-width="2.7" stroke-dasharray="3.5 6.2"/>
<path d="M173,165.1 C177.5,165.1 188.47,165.2 200,165.1 C211.53,165 233.57,165.52 242.2,164.5 C250.83,163.48 249.32,161.38 251.8,159 C254.28,156.62 255.78,153.22 257.1,150.2 C258.42,147.18 258.83,144.1 259.7,140.9 C260.57,137.7 261.57,134.27 262.3,131 C263.03,127.73 263.37,124.52 264.1,121.3 C264.83,118.08 265.83,114.92 266.7,111.7 C267.57,108.48 268.13,104.92 269.3,102 C270.47,99.08 272.5,95.62 273.7,94.2 C274.9,92.78 275.53,93.22 276.5,93.5 C277.47,93.78 278.35,93.9 279.5,95.9 C280.65,97.9 282.32,102.28 283.4,105.5 C284.48,108.72 285.28,112.03 286,115.2 C286.72,118.37 287.03,121.28 287.7,124.5 C288.37,127.72 289.27,131.3 290,134.5 C290.73,137.7 291.4,140.63 292.1,143.7 C292.8,146.77 293.47,149.77 294.2,152.9 C294.93,156.03 295.68,159.3 296.5,162.5 C297.32,165.7 298.52,169.85 299.1,172.1 C299.68,174.35 299.85,175.35 300,176" fill="none" stroke="#4cb6e6" stroke-width="2.7" stroke-dasharray="3.5 6"/>
<path d="M219,174 C222.83,174 237.58,174.17 242,174 C246.42,173.83 244.5,174 245.5,173 C246.5,172 247.17,171 248,168 C248.83,165 249.7,161.03 250.5,155 C251.3,148.97 251.82,142.63 252.8,131.8 C253.78,120.97 255.37,101.13 256.4,90 C257.43,78.87 258.07,72.33 259,65 C259.93,57.67 260.73,51.08 262,46 C263.27,40.92 265.1,37.08 266.6,34.5 C268.1,31.92 269.3,31.38 271,30.5 C272.7,29.62 273.4,29.12 276.8,29.2 C280.2,29.28 285.57,29.93 291.4,31 C297.23,32.07 304.5,33.9 311.8,35.6 C319.1,37.3 328.83,39.72 335.2,41.2 C341.57,42.68 342.18,42.87 350,44.5 C357.82,46.13 369.25,48.68 382.1,51 C394.95,53.32 411.03,55.95 427.1,58.4 C443.17,60.85 461.38,63.3 478.5,65.7 C495.62,68.1 515.22,70.62 529.8,72.8 C544.38,74.98 559.97,77.8 566,78.8" fill="none" stroke="#e8485c" stroke-width="2.2"/>
</g>
<ellipse cx="257.2" cy="52.4" rx="17.2" ry="15.5" fill="none" stroke="#7c7fd4" stroke-width="1"/>
<line x1="258" y1="37" x2="210" y2="37" stroke="#7c7fd4" stroke-width="1" stroke-linecap="butt" />
<polygon points="205,37 212,34.2 212,39.8" fill="#7c7fd4"/>
<ellipse cx="255.5" cy="121" rx="58.4" ry="7.9" fill="none" stroke="#7c7fd4" stroke-width="1"/>
<line x1="255" y1="128.9" x2="328" y2="128.9" stroke="#7c7fd4" stroke-width="1" stroke-linecap="butt" />
<polygon points="334,128.9 327,126.1 327,131.7" fill="#7c7fd4"/>
<line x1="439" y1="126.8" x2="463" y2="126.8" stroke="#5bb52f" stroke-width="2.7" stroke-linecap="butt" stroke-dasharray="3 6.5" />
<text x="468.4" y="130.8" font-family="'Liberation Sans', sans-serif" font-size="11.8" fill="#5bb52f" text-anchor="start" font-weight="normal" font-style="normal" >Current density</text>
<line x1="439" y1="142.3" x2="463" y2="142.3" stroke="#eec232" stroke-width="2.7" stroke-linecap="butt" stroke-dasharray="3 6.5" />
<text x="468.4" y="146.3" font-family="'Liberation Sans', sans-serif" font-size="11.8" fill="#eec232" text-anchor="start" font-weight="normal" font-style="normal" >Luminance</text>
<line x1="439" y1="157.8" x2="463" y2="157.8" stroke="#4cb6e6" stroke-width="2.7" stroke-linecap="butt" stroke-dasharray="3 6.5" />
<text x="468.4" y="161.8" font-family="'Liberation Sans', sans-serif" font-size="11.8" fill="#4cb6e6" text-anchor="start" font-weight="normal" font-style="normal" >Capacitance</text>
<text x="2.3" y="23.2" font-family="'Liberation Sans', sans-serif" font-size="20" fill="#000" text-anchor="start" font-weight="bold" font-style="normal" >a</text>
</g>
<g id="pb">
<line x1="83.7" y1="213.5" x2="83.7" y2="370.5" stroke="#cdcdcd" stroke-width="0.8" stroke-linecap="butt" stroke-dasharray="1 1" />
<line x1="109.03" y1="213.5" x2="109.03" y2="370.5" stroke="#cdcdcd" stroke-width="0.8" stroke-linecap="butt" stroke-dasharray="1 1" />
<line x1="134.35" y1="213.5" x2="134.35" y2="370.5" stroke="#cdcdcd" stroke-width="0.8" stroke-linecap="butt" stroke-dasharray="1 1" />
<line x1="159.68" y1="213.5" x2="159.68" y2="370.5" stroke="#cdcdcd" stroke-width="0.8" stroke-linecap="butt" stroke-dasharray="1 1" />
<line x1="185" y1="213.5" x2="185" y2="370.5" stroke="#cdcdcd" stroke-width="0.8" stroke-linecap="butt" stroke-dasharray="1 1" />
<line x1="210.32" y1="213.5" x2="210.32" y2="370.5" stroke="#cdcdcd" stroke-width="0.8" stroke-linecap="butt" stroke-dasharray="1 1" />
<line x1="235.65" y1="213.5" x2="235.65" y2="370.5" stroke="#cdcdcd" stroke-width="0.8" stroke-linecap="butt" stroke-dasharray="1 1" />
<line x1="260.98" y1="213.5" x2="260.98" y2="370.5" stroke="#cdcdcd" stroke-width="0.8" stroke-linecap="butt" stroke-dasharray="1 1" />
<line x1="286.3" y1="213.5" x2="286.3" y2="370.5" stroke="#cdcdcd" stroke-width="0.8" stroke-linecap="butt" stroke-dasharray="1 1" />
<line x1="311.62" y1="213.5" x2="311.62" y2="370.5" stroke="#cdcdcd" stroke-width="0.8" stroke-linecap="butt" stroke-dasharray="1 1" />
<line x1="336.95" y1="213.5" x2="336.95" y2="370.5" stroke="#cdcdcd" stroke-width="0.8" stroke-linecap="butt" stroke-dasharray="1 1" />
<line x1="362.27" y1="213.5" x2="362.27" y2="370.5" stroke="#cdcdcd" stroke-width="0.8" stroke-linecap="butt" stroke-dasharray="1 1" />
<line x1="387.6" y1="213.5" x2="387.6" y2="370.5" stroke="#cdcdcd" stroke-width="0.8" stroke-linecap="butt" stroke-dasharray="1 1" />
<line x1="412.92" y1="213.5" x2="412.92" y2="370.5" stroke="#cdcdcd" stroke-width="0.8" stroke-linecap="butt" stroke-dasharray="1 1" />
<line x1="438.25" y1="213.5" x2="438.25" y2="370.5" stroke="#cdcdcd" stroke-width="0.8" stroke-linecap="butt" stroke-dasharray="1 1" />
<line x1="463.57" y1="213.5" x2="463.57" y2="370.5" stroke="#cdcdcd" stroke-width="0.8" stroke-linecap="butt" stroke-dasharray="1 1" />
<line x1="488.9" y1="213.5" x2="488.9" y2="370.5" stroke="#cdcdcd" stroke-width="0.8" stroke-linecap="butt" stroke-dasharray="1 1" />
<line x1="514.22" y1="213.5" x2="514.22" y2="370.5" stroke="#cdcdcd" stroke-width="0.8" stroke-linecap="butt" stroke-dasharray="1 1" />
<line x1="539.55" y1="213.5" x2="539.55" y2="370.5" stroke="#cdcdcd" stroke-width="0.8" stroke-linecap="butt" stroke-dasharray="1 1" />
<line x1="564.88" y1="213.5" x2="564.88" y2="370.5" stroke="#cdcdcd" stroke-width="0.8" stroke-linecap="butt" stroke-dasharray="1 1" />
<line x1="590.2" y1="213.5" x2="590.2" y2="370.5" stroke="#cdcdcd" stroke-width="0.8" stroke-linecap="butt" stroke-dasharray="1 1" />
<line x1="57.7" y1="213.5" x2="615.5" y2="213.5" stroke="#333" stroke-width="1.1" stroke-linecap="butt" />
<line x1="57.7" y1="370.5" x2="615.5" y2="370.5" stroke="#333" stroke-width="1.1" stroke-linecap="butt" />
<line x1="57.7" y1="213" x2="57.7" y2="371" stroke="#f06070" stroke-width="1" stroke-linecap="butt" />
<line x1="615.5" y1="213" x2="615.5" y2="371" stroke="#4c9a4c" stroke-width="1.1" stroke-linecap="butt" />
<line x1="83.7" y1="370.5" x2="83.7" y2="366.5" stroke="#333" stroke-width="1" stroke-linecap="butt" />
<line x1="109.03" y1="370.5" x2="109.03" y2="368" stroke="#333" stroke-width="1" stroke-linecap="butt" />
<line x1="134.35" y1="370.5" x2="134.35" y2="366.5" stroke="#333" stroke-width="1" stroke-linecap="butt" />
<line x1="159.68" y1="370.5" x2="159.68" y2="368" stroke="#333" stroke-width="1" stroke-linecap="butt" />
<line x1="185" y1="370.5" x2="185" y2="366.5" stroke="#333" stroke-width="1" stroke-linecap="butt" />
<line x1="210.32" y1="370.5" x2="210.32" y2="368" stroke="#333" stroke-width="1" stroke-linecap="butt" />
<line x1="235.65" y1="370.5" x2="235.65" y2="366.5" stroke="#333" stroke-width="1" stroke-linecap="butt" />
<line x1="260.98" y1="370.5" x2="260.98" y2="368" stroke="#333" stroke-width="1" stroke-linecap="butt" />
<line x1="286.3" y1="370.5" x2="286.3" y2="366.5" stroke="#333" stroke-width="1" stroke-linecap="butt" />
<line x1="311.62" y1="370.5" x2="311.62" y2="368" stroke="#333" stroke-width="1" stroke-linecap="butt" />
<line x1="336.95" y1="370.5" x2="336.95" y2="366.5" stroke="#333" stroke-width="1" stroke-linecap="butt" />
<line x1="362.27" y1="370.5" x2="362.27" y2="368" stroke="#333" stroke-width="1" stroke-linecap="butt" />
<line x1="387.6" y1="370.5" x2="387.6" y2="366.5" stroke="#333" stroke-width="1" stroke-linecap="butt" />
<line x1="412.92" y1="370.5" x2="412.92" y2="368" stroke="#333" stroke-width="1" stroke-linecap="butt" />
<line x1="438.25" y1="370.5" x2="438.25" y2="366.5" stroke="#333" stroke-width="1" stroke-linecap="butt" />
<line x1="463.57" y1="370.5" x2="463.57" y2="368" stroke="#333" stroke-width="1" stroke-linecap="butt" />
<line x1="488.9" y1="370.5" x2="488.9" y2="366.5" stroke="#333" stroke-width="1" stroke-linecap="butt" />
<line x1="514.22" y1="370.5" x2="514.22" y2="368" stroke="#333" stroke-width="1" stroke-linecap="butt" />
<line x1="539.55" y1="370.5" x2="539.55" y2="366.5" stroke="#333" stroke-width="1" stroke-linecap="butt" />
<line x1="564.88" y1="370.5" x2="564.88" y2="368" stroke="#333" stroke-width="1" stroke-linecap="butt" />
<line x1="590.2" y1="370.5" x2="590.2" y2="366.5" stroke="#333" stroke-width="1" stroke-linecap="butt" />
<text x="83.7" y="385" font-family="'Liberation Sans', sans-serif" font-size="11.5" fill="#111" text-anchor="middle" font-weight="normal" font-style="normal" >-2</text>
<text x="134.35" y="385" font-family="'Liberation Sans', sans-serif" font-size="11.5" fill="#111" text-anchor="middle" font-weight="normal" font-style="normal" >-1</text>
<text x="185" y="385" font-family="'Liberation Sans', sans-serif" font-size="11.5" fill="#111" text-anchor="middle" font-weight="normal" font-style="normal" >0</text>
<text x="235.65" y="385" font-family="'Liberation Sans', sans-serif" font-size="11.5" fill="#111" text-anchor="middle" font-weight="normal" font-style="normal" >1</text>
<text x="286.3" y="385" font-family="'Liberation Sans', sans-serif" font-size="11.5" fill="#111" text-anchor="middle" font-weight="normal" font-style="normal" >2</text>
<text x="336.95" y="385" font-family="'Liberation Sans', sans-serif" font-size="11.5" fill="#111" text-anchor="middle" font-weight="normal" font-style="normal" >3</text>
<text x="387.6" y="385" font-family="'Liberation Sans', sans-serif" font-size="11.5" fill="#111" text-anchor="middle" font-weight="normal" font-style="normal" >4</text>
<text x="438.25" y="385" font-family="'Liberation Sans', sans-serif" font-size="11.5" fill="#111" text-anchor="middle" font-weight="normal" font-style="normal" >5</text>
<text x="488.9" y="385" font-family="'Liberation Sans', sans-serif" font-size="11.5" fill="#111" text-anchor="middle" font-weight="normal" font-style="normal" >6</text>
<text x="539.55" y="385" font-family="'Liberation Sans', sans-serif" font-size="11.5" fill="#111" text-anchor="middle" font-weight="normal" font-style="normal" >7</text>
<text x="590.2" y="385" font-family="'Liberation Sans', sans-serif" font-size="11.5" fill="#111" text-anchor="middle" font-weight="normal" font-style="normal" >8</text>
<line x1="57.7" y1="370.5" x2="61.7" y2="370.5" stroke="#f06070" stroke-width="1" stroke-linecap="butt" />
<line x1="57.7" y1="357.38" x2="60.2" y2="357.38" stroke="#f06070" stroke-width="1" stroke-linecap="butt" />
<text x="53" y="374.5" font-family="'Liberation Sans', sans-serif" font-size="11.5" fill="#ee3b55" text-anchor="end" font-weight="normal" font-style="normal" >0.0</text>
<line x1="615.5" y1="370.5" x2="611.5" y2="370.5" stroke="#4c9a4c" stroke-width="1" stroke-linecap="butt" />
<line x1="615.5" y1="357.38" x2="613" y2="357.38" stroke="#4c9a4c" stroke-width="1" stroke-linecap="butt" />
<text x="620.5" y="374.7" font-family="'Liberation Sans', sans-serif" font-size="12" fill="#4c9a4c" text-anchor="start" font-weight="normal" font-style="normal" >0.0</text>
<line x1="57.7" y1="344.25" x2="61.7" y2="344.25" stroke="#f06070" stroke-width="1" stroke-linecap="butt" />
<line x1="57.7" y1="331.12" x2="60.2" y2="331.12" stroke="#f06070" stroke-width="1" stroke-linecap="butt" />
<text x="53" y="348.25" font-family="'Liberation Sans', sans-serif" font-size="11.5" fill="#ee3b55" text-anchor="end" font-weight="normal" font-style="normal" >0.2</text>
<line x1="615.5" y1="344.25" x2="611.5" y2="344.25" stroke="#4c9a4c" stroke-width="1" stroke-linecap="butt" />
<line x1="615.5" y1="331.12" x2="613" y2="331.12" stroke="#4c9a4c" stroke-width="1" stroke-linecap="butt" />
<text x="620.5" y="348.45" font-family="'Liberation Sans', sans-serif" font-size="12" fill="#4c9a4c" text-anchor="start" font-weight="normal" font-style="normal" >0.2</text>
<line x1="57.7" y1="318" x2="61.7" y2="318" stroke="#f06070" stroke-width="1" stroke-linecap="butt" />
<line x1="57.7" y1="304.88" x2="60.2" y2="304.88" stroke="#f06070" stroke-width="1" stroke-linecap="butt" />
<text x="53" y="322" font-family="'Liberation Sans', sans-serif" font-size="11.5" fill="#ee3b55" text-anchor="end" font-weight="normal" font-style="normal" >0.4</text>
<line x1="615.5" y1="318" x2="611.5" y2="318" stroke="#4c9a4c" stroke-width="1" stroke-linecap="butt" />
<line x1="615.5" y1="304.88" x2="613" y2="304.88" stroke="#4c9a4c" stroke-width="1" stroke-linecap="butt" />
<text x="620.5" y="322.2" font-family="'Liberation Sans', sans-serif" font-size="12" fill="#4c9a4c" text-anchor="start" font-weight="normal" font-style="normal" >0.4</text>
<line x1="57.7" y1="291.75" x2="61.7" y2="291.75" stroke="#f06070" stroke-width="1" stroke-linecap="butt" />
<line x1="57.7" y1="278.62" x2="60.2" y2="278.62" stroke="#f06070" stroke-width="1" stroke-linecap="butt" />
<text x="53" y="295.75" font-family="'Liberation Sans', sans-serif" font-size="11.5" fill="#ee3b55" text-anchor="end" font-weight="normal" font-style="normal" >0.6</text>
<line x1="615.5" y1="291.75" x2="611.5" y2="291.75" stroke="#4c9a4c" stroke-width="1" stroke-linecap="butt" />
<line x1="615.5" y1="278.62" x2="613" y2="278.62" stroke="#4c9a4c" stroke-width="1" stroke-linecap="butt" />
<text x="620.5" y="295.95" font-family="'Liberation Sans', sans-serif" font-size="12" fill="#4c9a4c" text-anchor="start" font-weight="normal" font-style="normal" >0.6</text>
<line x1="57.7" y1="265.5" x2="61.7" y2="265.5" stroke="#f06070" stroke-width="1" stroke-linecap="butt" />
<line x1="57.7" y1="252.38" x2="60.2" y2="252.38" stroke="#f06070" stroke-width="1" stroke-linecap="butt" />
<text x="53" y="269.5" font-family="'Liberation Sans', sans-serif" font-size="11.5" fill="#ee3b55" text-anchor="end" font-weight="normal" font-style="normal" >0.8</text>
<line x1="615.5" y1="265.5" x2="611.5" y2="265.5" stroke="#4c9a4c" stroke-width="1" stroke-linecap="butt" />
<line x1="615.5" y1="252.38" x2="613" y2="252.38" stroke="#4c9a4c" stroke-width="1" stroke-linecap="butt" />
<text x="620.5" y="269.7" font-family="'Liberation Sans', sans-serif" font-size="12" fill="#4c9a4c" text-anchor="start" font-weight="normal" font-style="normal" >0.8</text>
<line x1="57.7" y1="239.25" x2="61.7" y2="239.25" stroke="#f06070" stroke-width="1" stroke-linecap="butt" />
<line x1="57.7" y1="226.12" x2="60.2" y2="226.12" stroke="#f06070" stroke-width="1" stroke-linecap="butt" />
<text x="53" y="243.25" font-family="'Liberation Sans', sans-serif" font-size="11.5" fill="#ee3b55" text-anchor="end" font-weight="normal" font-style="normal" >1.0</text>
<line x1="615.5" y1="239.25" x2="611.5" y2="239.25" stroke="#4c9a4c" stroke-width="1" stroke-linecap="butt" />
<line x1="615.5" y1="226.12" x2="613" y2="226.12" stroke="#4c9a4c" stroke-width="1" stroke-linecap="butt" />
<text x="620.5" y="243.45" font-family="'Liberation Sans', sans-serif" font-size="12" fill="#4c9a4c" text-anchor="start" font-weight="normal" font-style="normal" >1.0</text>
<line x1="57.7" y1="213" x2="61.7" y2="213" stroke="#f06070" stroke-width="1" stroke-linecap="butt" />
<text x="53" y="217" font-family="'Liberation Sans', sans-serif" font-size="11.5" fill="#ee3b55" text-anchor="end" font-weight="normal" font-style="normal" >1.2</text>
<line x1="615.5" y1="213" x2="611.5" y2="213" stroke="#4c9a4c" stroke-width="1" stroke-linecap="butt" />
<text x="620.5" y="217.2" font-family="'Liberation Sans', sans-serif" font-size="12" fill="#4c9a4c" text-anchor="start" font-weight="normal" font-style="normal" >1.2</text>
<text x="29" y="290.8" font-family="'Liberation Sans', sans-serif" font-size="12" fill="#ee3b55" text-anchor="middle" font-weight="normal" font-style="normal" transform="rotate(-90 29 290.8)" >Normalized PL &amp; EL (arb. units)</text>
<text x="657.5" y="297.5" font-family="'Liberation Serif', serif" font-size="12.5" fill="#4c9a4c" text-anchor="middle" font-weight="normal" font-style="italic" transform="rotate(-90 657.5 297.5)" >γ</text>
<text x="336.5" y="399.6" font-family="'Liberation Sans', sans-serif" font-size="11.8" fill="#111" text-anchor="middle" font-weight="normal" font-style="normal" >Voltage (V)</text>
<clipPath id="clipB"><rect x="57.7" y="207.5" width="557.8" height="163.0"/></clipPath>
<g clip-path="url(#clipB)">
<path d="M53.31,325.88 C58.38,325.33 70.19,326.23 83.7,322.59 C97.21,318.96 117.47,310.87 134.35,304.09 C151.23,297.31 172.34,288.1 185,281.91 C197.66,275.72 203.57,270.84 210.32,266.94 C217.08,263.05 221.3,260.43 225.52,258.54 C229.74,256.66 232.27,256.62 235.65,255.66 C239.03,254.69 242.4,254.1 245.78,252.77 C249.16,251.43 253.38,249.25 255.91,247.65 C258.44,246.05 259.29,244.15 260.98,243.19 C262.66,242.22 264.35,242.73 266.04,241.88 C267.73,241.02 269.42,238.03 271.11,238.07 C272.79,238.11 274.48,241.77 276.17,242.14 C277.86,242.51 279.55,240.41 281.24,240.3 C282.92,240.19 284.61,241.66 286.3,241.48 C287.99,241.31 289.68,240.06 291.37,239.25 C293.05,238.44 294.74,236.95 296.43,236.62 C298.12,236.3 298.96,236.73 301.5,237.28 C304.03,237.83 305.72,238.51 311.62,239.91 C317.53,241.31 328.51,244.08 336.95,245.68 C345.39,247.28 353.83,248.2 362.27,249.49 C370.72,250.78 379.16,251.68 387.6,253.43 C396.04,255.18 404.48,258.19 412.92,259.99 C421.37,261.78 425.59,262.13 438.25,264.19 C450.91,266.24 472.02,269.81 488.9,272.32 C505.78,274.84 522.67,276.66 539.55,279.28 C556.43,281.91 581.76,286.61 590.2,288.07" fill="none" stroke="#f07a8c" stroke-width="0.8"/>
<path d="M235.65,370.5 C236.49,370.5 239.03,370.5 240.72,370.5 C242.4,370.5 244.09,370.5 245.78,370.5 C247.47,370.5 249.16,370.5 250.84,370.5 C252.53,370.5 254.22,370.5 255.91,370.5 C257.6,370.5 259.29,370.61 260.98,370.5 C262.66,370.39 264.77,370.61 266.04,369.84 C267.31,369.08 267.73,368.42 268.57,365.91 C269.42,363.39 270.26,360 271.11,354.75 C271.95,349.5 272.79,342.06 273.64,334.41 C274.48,326.75 275.33,317.02 276.17,308.81 C277.01,300.61 277.86,292.08 278.7,285.19 C279.55,278.3 280.39,272.32 281.24,267.47 C282.08,262.61 282.92,259.22 283.77,256.05 C284.61,252.88 285.46,250.47 286.3,248.44 C287.14,246.4 287.99,244.94 288.83,243.84 C289.68,242.75 290.52,242.42 291.37,241.88 C292.21,241.33 293.05,241 293.9,240.56 C294.74,240.12 295.59,239.47 296.43,239.25 C297.27,239.03 298.12,239.25 298.96,239.25 C299.81,239.25 300.65,239.19 301.5,239.25 C302.34,239.31 303.23,239.51 304.03,239.63 C304.83,239.75 305.55,239.86 306.31,239.97 C307.07,240.09 307.83,240.2 308.59,240.32 C309.35,240.43 310.11,240.54 310.87,240.66 C311.62,240.77 312.38,240.89 313.14,241 C313.9,241.12 314.66,241.23 315.42,241.34 C316.18,241.46 316.94,241.57 317.7,241.69 C318.46,241.8 319.22,241.91 319.98,242.03 C320.74,242.14 321.5,242.26 322.26,242.37 C323.02,242.49 323.78,242.6 324.54,242.71 C325.3,242.83 326.06,242.94 326.82,243.06 C327.58,243.17 328.34,243.28 329.1,243.4 C329.86,243.51 330.62,243.63 331.38,243.74 C332.14,243.86 332.9,243.97 333.66,244.08 C334.42,244.2 335.18,244.31 335.94,244.43 C336.7,244.54 337.46,244.65 338.22,244.77 C338.98,244.88 339.74,245 340.5,245.11 C341.26,245.23 342.01,245.34 342.77,245.45 C343.53,245.57 344.29,245.68 345.05,245.8 C345.81,245.91 346.57,246.03 347.33,246.14 C348.09,246.25 348.85,246.37 349.61,246.48 C350.37,246.6 351.13,246.71 351.89,246.82 C352.65,246.94 353.41,247.05 354.17,247.17 C354.93,247.28 355.69,247.4 356.45,247.51 C357.21,247.62 353.54,246.3 358.73,247.85 C363.92,249.41 378.57,254.66 387.6,256.84 C396.63,259.01 404.48,259.53 412.92,260.91 C421.37,262.28 425.59,262.85 438.25,265.11 C450.91,267.36 472.02,271.17 488.9,274.43 C505.78,277.68 522.67,281.4 539.55,284.66 C556.43,287.92 581.76,292.43 590.2,293.98" fill="none" stroke="#f07a8c" stroke-width="0.8"/>
<path d="M235.65,370.5 C236.49,370.5 239.03,370.5 240.72,370.5 C242.4,370.5 244.09,370.5 245.78,370.5 C247.47,370.5 249.16,370.5 250.84,370.5 C252.53,370.5 254.22,370.5 255.91,370.5 C257.6,370.5 259.29,370.57 260.98,370.5 C262.66,370.43 264.35,372.88 266.04,370.11 C267.73,367.33 269.42,363.96 271.11,353.83 C272.79,343.7 274.48,323.29 276.17,309.34 C277.86,295.38 279.72,280.13 281.24,270.09 C282.75,260.05 283.6,253.14 285.29,249.09 C286.98,245.05 289.51,246.47 291.37,245.81 C293.22,245.16 294.74,245.33 296.43,245.16 C298.12,244.98 298.96,245.2 301.5,244.76 C304.03,244.32 305.72,243.12 311.62,242.53 C317.53,241.94 328.51,241.11 336.95,241.22 C345.39,241.33 353.83,242.31 362.27,243.19 C370.72,244.06 379.16,246.47 387.6,246.47 C396.04,246.47 404.48,243.56 412.92,243.19 C421.37,242.82 425.59,244.06 438.25,244.24 C450.91,244.41 472.02,243.25 488.9,244.24 C505.78,245.22 522.67,248.96 539.55,250.14 C556.43,251.33 581.76,251.13 590.2,251.32" fill="none" stroke="#6db872" stroke-width="0.8"/>
</g>
<line x1="239.7" y1="236.5" x2="599" y2="236.5" stroke="#6a2fd0" stroke-width="1.6" stroke-linecap="butt" stroke-dasharray="4.5 3" />
<line x1="490.4" y1="293.3" x2="593.7" y2="293.3" stroke="#6a2fd0" stroke-width="1.6" stroke-linecap="butt" stroke-dasharray="4.5 3" />
<line x1="555.2" y1="280.2" x2="592" y2="280.2" stroke="#6a2fd0" stroke-width="1.6" stroke-linecap="butt" stroke-dasharray="4.5 3" />
<clipPath id="clipB2"><rect x="57.7" y="213.5" width="557.8" height="157.0"/></clipPath>
<g clip-path="url(#clipB2)">
<circle cx="235.65" cy="370.5" r="3.7" fill="#fff" stroke="#e9506a" stroke-width="0.9"/>
<circle cx="240.72" cy="370.5" r="3.7" fill="#fff" stroke="#e9506a" stroke-width="0.9"/>
<circle cx="245.78" cy="370.5" r="3.7" fill="#fff" stroke="#e9506a" stroke-width="0.9"/>
<circle cx="250.84" cy="370.5" r="3.7" fill="#fff" stroke="#e9506a" stroke-width="0.9"/>
<circle cx="255.91" cy="370.5" r="3.7" fill="#fff" stroke="#e9506a" stroke-width="0.9"/>
<circle cx="260.98" cy="370.5" r="3.7" fill="#fff" stroke="#e9506a" stroke-width="0.9"/>
<circle cx="266.04" cy="369.84" r="3.7" fill="#fff" stroke="#e9506a" stroke-width="0.9"/>
<circle cx="268.57" cy="365.91" r="3.7" fill="#fff" stroke="#e9506a" stroke-width="0.9"/>
<circle cx="271.11" cy="354.75" r="3.7" fill="#fff" stroke="#e9506a" stroke-width="0.9"/>
<circle cx="273.64" cy="334.41" r="3.7" fill="#fff" stroke="#e9506a" stroke-width="0.9"/>
<circle cx="276.17" cy="308.81" r="3.7" fill="#fff" stroke="#e9506a" stroke-width="0.9"/>
<circle cx="278.7" cy="285.19" r="3.7" fill="#fff" stroke="#e9506a" stroke-width="0.9"/>
<circle cx="281.24" cy="267.47" r="3.7" fill="#fff" stroke="#e9506a" stroke-width="0.9"/>
<circle cx="283.77" cy="256.05" r="3.7" fill="#fff" stroke="#e9506a" stroke-width="0.9"/>
<circle cx="286.3" cy="248.44" r="3.7" fill="#fff" stroke="#e9506a" stroke-width="0.9"/>
<circle cx="288.83" cy="243.84" r="3.7" fill="#fff" stroke="#e9506a" stroke-width="0.9"/>
<circle cx="291.37" cy="241.88" r="3.7" fill="#fff" stroke="#e9506a" stroke-width="0.9"/>
<circle cx="293.9" cy="240.56" r="3.7" fill="#fff" stroke="#e9506a" stroke-width="0.9"/>
<circle cx="296.43" cy="239.25" r="3.7" fill="#fff" stroke="#e9506a" stroke-width="0.9"/>
<circle cx="298.96" cy="239.25" r="3.7" fill="#fff" stroke="#e9506a" stroke-width="0.9"/>
<circle cx="301.5" cy="239.25" r="3.7" fill="#fff" stroke="#e9506a" stroke-width="0.9"/>
<circle cx="304.03" cy="239.63" r="3.7" fill="#fff" stroke="#e9506a" stroke-width="0.9"/>
<circle cx="306.31" cy="239.97" r="3.7" fill="#fff" stroke="#e9506a" stroke-width="0.9"/>
<circle cx="308.59" cy="240.32" r="3.7" fill="#fff" stroke="#e9506a" stroke-width="0.9"/>
<circle cx="310.87" cy="240.66" r="3.7" fill="#fff" stroke="#e9506a" stroke-width="0.9"/>
<circle cx="313.14" cy="241" r="3.7" fill="#fff" stroke="#e9506a" stroke-width="0.9"/>
<circle cx="315.42" cy="241.34" r="3.7" fill="#fff" stroke="#e9506a" stroke-width="0.9"/>
<circle cx="317.7" cy="241.69" r="3.7" fill="#fff" stroke="#e9506a" stroke-width="0.9"/>
<circle cx="319.98" cy="242.03" r="3.7" fill="#fff" stroke="#e9506a" stroke-width="0.9"/>
<circle cx="322.26" cy="242.37" r="3.7" fill="#fff" stroke="#e9506a" stroke-width="0.9"/>
<circle cx="324.54" cy="242.71" r="3.7" fill="#fff" stroke="#e9506a" stroke-width="0.9"/>
<circle cx="326.82" cy="243.06" r="3.7" fill="#fff" stroke="#e9506a" stroke-width="0.9"/>
<circle cx="329.1" cy="243.4" r="3.7" fill="#fff" stroke="#e9506a" stroke-width="0.9"/>
<circle cx="331.38" cy="243.74" r="3.7" fill="#fff" stroke="#e9506a" stroke-width="0.9"/>
<circle cx="333.66" cy="244.08" r="3.7" fill="#fff" stroke="#e9506a" stroke-width="0.9"/>
<circle cx="335.94" cy="244.43" r="3.7" fill="#fff" stroke="#e9506a" stroke-width="0.9"/>
<circle cx="338.22" cy="244.77" r="3.7" fill="#fff" stroke="#e9506a" stroke-width="0.9"/>
<circle cx="340.5" cy="245.11" r="3.7" fill="#fff" stroke="#e9506a" stroke-width="0.9"/>
<circle cx="342.77" cy="245.45" r="3.7" fill="#fff" stroke="#e9506a" stroke-width="0.9"/>
<circle cx="345.05" cy="245.8" r="3.7" fill="#fff" stroke="#e9506a" stroke-width="0.9"/>
<circle cx="347.33" cy="246.14" r="3.7" fill="#fff" stroke="#e9506a" stroke-width="0.9"/>
<circle cx="349.61" cy="246.48" r="3.7" fill="#fff" stroke="#e9506a" stroke-width="0.9"/>
<circle cx="351.89" cy="246.82" r="3.7" fill="#fff" stroke="#e9506a" stroke-width="0.9"/>
<circle cx="354.17" cy="247.17" r="3.7" fill="#fff" stroke="#e9506a" stroke-width="0.9"/>
<circle cx="356.45" cy="247.51" r="3.7" fill="#fff" stroke="#e9506a" stroke-width="0.9"/>
<circle cx="358.73" cy="247.85" r="3.7" fill="#fff" stroke="#e9506a" stroke-width="0.9"/>
<circle cx="387.6" cy="256.84" r="3.7" fill="#fff" stroke="#e9506a" stroke-width="0.9"/>
<circle cx="412.92" cy="260.91" r="3.7" fill="#fff" stroke="#e9506a" stroke-width="0.9"/>
<circle cx="438.25" cy="265.11" r="3.7" fill="#fff" stroke="#e9506a" stroke-width="0.9"/>
<circle cx="488.9" cy="274.43" r="3.7" fill="#fff" stroke="#e9506a" stroke-width="0.9"/>
<circle cx="539.55" cy="284.66" r="3.7" fill="#fff" stroke="#e9506a" stroke-width="0.9"/>
<circle cx="590.2" cy="293.98" r="3.7" fill="#fff" stroke="#e9506a" stroke-width="0.9"/>
<circle cx="83.7" cy="322.59" r="4.1" fill="#e9506a"/>
<circle cx="134.35" cy="304.09" r="4.1" fill="#e9506a"/>
<circle cx="185" cy="281.91" r="4.1" fill="#e9506a"/>
<circle cx="210.32" cy="266.94" r="4.1" fill="#e9506a"/>
<circle cx="225.52" cy="258.54" r="4.1" fill="#e9506a"/>
<circle cx="235.65" cy="255.66" r="4.1" fill="#e9506a"/>
<circle cx="245.78" cy="252.77" r="4.1" fill="#e9506a"/>
<circle cx="255.91" cy="247.65" r="4.1" fill="#e9506a"/>
<circle cx="260.98" cy="243.19" r="4.1" fill="#e9506a"/>
<circle cx="266.04" cy="241.88" r="4.1" fill="#e9506a"/>
<circle cx="271.11" cy="238.07" r="4.1" fill="#e9506a"/>
<circle cx="276.17" cy="242.14" r="4.1" fill="#e9506a"/>
<circle cx="281.24" cy="240.3" r="4.1" fill="#e9506a"/>
<circle cx="286.3" cy="241.48" r="4.1" fill="#e9506a"/>
<circle cx="291.37" cy="239.25" r="4.1" fill="#e9506a"/>
<circle cx="296.43" cy="236.62" r="4.1" fill="#e9506a"/>
<circle cx="301.5" cy="237.28" r="4.1" fill="#e9506a"/>
<circle cx="311.62" cy="239.91" r="4.1" fill="#e9506a"/>
<circle cx="336.95" cy="245.68" r="4.1" fill="#e9506a"/>
<circle cx="362.27" cy="249.49" r="4.1" fill="#e9506a"/>
<circle cx="387.6" cy="253.43" r="4.1" fill="#e9506a"/>
<circle cx="412.92" cy="259.99" r="4.1" fill="#e9506a"/>
<circle cx="438.25" cy="264.19" r="4.1" fill="#e9506a"/>
<circle cx="488.9" cy="272.32" r="4.1" fill="#e9506a"/>
<circle cx="539.55" cy="279.28" r="4.1" fill="#e9506a"/>
<circle cx="590.2" cy="288.07" r="4.1" fill="#e9506a"/>
<polygon points="235.65,365.2 236.96,368.7 240.69,368.86 237.77,371.19 238.77,374.79 235.65,372.73 232.53,374.79 233.53,371.19 230.61,368.86 234.34,368.7" fill="#3f8a48"/>
<polygon points="240.72,365.2 242.02,368.7 245.76,368.86 242.83,371.19 243.83,374.79 240.72,372.73 237.6,374.79 238.6,371.19 235.67,368.86 239.41,368.7" fill="#3f8a48"/>
<polygon points="245.78,365.2 247.09,368.7 250.82,368.86 247.9,371.19 248.9,374.79 245.78,372.73 242.66,374.79 243.66,371.19 240.74,368.86 244.47,368.7" fill="#3f8a48"/>
<polygon points="250.84,365.2 252.15,368.7 255.89,368.86 252.96,371.19 253.96,374.79 250.84,372.73 247.73,374.79 248.73,371.19 245.8,368.86 249.54,368.7" fill="#3f8a48"/>
<polygon points="255.91,365.2 257.22,368.7 260.95,368.86 258.03,371.19 259.03,374.79 255.91,372.73 252.79,374.79 253.79,371.19 250.87,368.86 254.6,368.7" fill="#3f8a48"/>
<polygon points="260.98,365.2 262.28,368.7 266.02,368.86 263.09,371.19 264.09,374.79 260.98,372.73 257.86,374.79 258.86,371.19 255.93,368.86 259.67,368.7" fill="#3f8a48"/>
<polygon points="266.04,364.81 267.35,368.31 271.08,368.47 268.16,370.79 269.16,374.39 266.04,372.33 262.92,374.39 263.92,370.79 261,368.47 264.73,368.31" fill="#3f8a48"/>
<polygon points="271.11,348.53 272.41,352.03 276.15,352.19 273.22,354.52 274.22,358.12 271.11,356.06 267.99,358.12 268.99,354.52 266.06,352.19 269.8,352.03" fill="#3f8a48"/>
<polygon points="276.17,304.04 277.48,307.54 281.21,307.7 278.29,310.03 279.29,313.63 276.17,311.56 273.05,313.63 274.05,310.03 271.13,307.7 274.86,307.54" fill="#3f8a48"/>
<polygon points="281.24,264.79 282.54,268.29 286.28,268.46 283.35,270.78 284.35,274.38 281.24,272.32 278.12,274.38 279.12,270.78 276.19,268.46 279.93,268.29" fill="#3f8a48"/>
<polygon points="285.29,243.79 286.6,247.29 290.33,247.46 287.4,249.78 288.4,253.38 285.29,251.32 282.17,253.38 283.17,249.78 280.25,247.46 283.98,247.29" fill="#3f8a48"/>
<polygon points="291.37,240.51 292.67,244.01 296.41,244.17 293.48,246.5 294.48,250.1 291.37,248.04 288.25,250.1 289.25,246.5 286.32,244.17 290.06,244.01" fill="#3f8a48"/>
<polygon points="296.43,239.86 297.74,243.36 301.47,243.52 298.55,245.84 299.55,249.44 296.43,247.38 293.31,249.44 294.31,245.84 291.39,243.52 295.12,243.36" fill="#3f8a48"/>
<polygon points="301.5,239.46 302.8,242.96 306.54,243.12 303.61,245.45 304.61,249.05 301.5,246.99 298.38,249.05 299.38,245.45 296.45,243.12 300.19,242.96" fill="#3f8a48"/>
<polygon points="311.62,237.23 312.93,240.73 316.67,240.89 313.74,243.22 314.74,246.82 311.62,244.76 308.51,246.82 309.51,243.22 306.58,240.89 310.32,240.73" fill="#3f8a48"/>
<polygon points="336.95,235.92 338.26,239.42 341.99,239.58 339.07,241.91 340.07,245.51 336.95,243.44 333.83,245.51 334.83,241.91 331.91,239.58 335.64,239.42" fill="#3f8a48"/>
<polygon points="362.27,237.89 363.58,241.39 367.32,241.55 364.39,243.88 365.39,247.48 362.27,245.41 359.16,247.48 360.16,243.88 357.23,241.55 360.97,241.39" fill="#3f8a48"/>
<polygon points="387.6,241.17 388.91,244.67 392.64,244.83 389.72,247.16 390.72,250.76 387.6,248.69 384.48,250.76 385.48,247.16 382.56,244.83 386.29,244.67" fill="#3f8a48"/>
<polygon points="412.92,237.89 414.23,241.39 417.97,241.55 415.04,243.88 416.04,247.48 412.92,245.41 409.81,247.48 410.81,243.88 407.88,241.55 411.62,241.39" fill="#3f8a48"/>
<polygon points="438.25,238.94 439.56,242.44 443.29,242.6 440.37,244.93 441.37,248.53 438.25,246.46 435.13,248.53 436.13,244.93 433.21,242.6 436.94,242.44" fill="#3f8a48"/>
<polygon points="488.9,238.94 490.21,242.44 493.94,242.6 491.02,244.93 492.02,248.53 488.9,246.46 485.78,248.53 486.78,244.93 483.86,242.6 487.59,242.44" fill="#3f8a48"/>
<polygon points="539.55,244.84 540.86,248.34 544.59,248.51 541.67,250.83 542.67,254.43 539.55,252.37 536.43,254.43 537.43,250.83 534.51,248.51 538.24,248.34" fill="#3f8a48"/>
<polygon points="590.2,246.02 591.51,249.52 595.24,249.69 592.32,252.01 593.32,255.61 590.2,253.55 587.08,255.61 588.08,252.01 585.16,249.69 588.89,249.52" fill="#3f8a48"/>
</g>
<line x1="284.6" y1="238" x2="284.6" y2="332" stroke="#8a2be2" stroke-width="2.2" stroke-linecap="butt" stroke-dasharray="2.2 3.5" />
<polygon points="280.6,330 288.6,330 284.6,340.5" fill="#8a2be2"/>
<text x="0" y="0" font-family="'Liberation Serif', serif" font-size="13.5" fill="#6a35c0" text-anchor="middle" font-weight="bold" font-style="italic" transform="translate(284.6 227.5) scale(1.22 1)">hν/e</text>
<polygon points="262.3,248.4 269.3,248.4 269.3,301.8 273,301.8 265.8,322.1 258.6,301.8 262.3,301.8" fill="#f0b62c" stroke="#e8501e" stroke-width="1"/>
<g fill="none" stroke="#f01818" stroke-linecap="round"><path d="M245.3,275.4 C246.8,273.2 249.2,272.9 250.2,275.5 C251,277.8 251.2,280 251.1,282" stroke-width="2.3"/><path d="M257.2,274.3 L250.9,282.3" stroke-width="2"/><path d="M251,282 C250.5,284.3 248.8,286.4 247.8,287.4" stroke-width="2.6"/></g>
<polygon points="514.9,239.7 522.6,239.7 522.6,272.3 526.5,272.3 518.75,292.3 511.4,272.3 514.9,272.3" fill="#f0b62c" stroke="#e8501e" stroke-width="1"/>
<line x1="531" y1="309.5" x2="522.5" y2="290" stroke="#ee2a2a" stroke-width="0.9" stroke-linecap="butt" />
<polygon points="521.5,288 520.5,294 525,292.5" fill="#ee2a2a"/>
<text x="0" y="0" font-family="'Liberation Serif', serif" font-size="20" fill="#ee1c1c" text-anchor="middle" font-weight="bold" font-style="italic" transform="translate(549.5 328.5) scale(1.3 1)">η<tspan font-size="14" dy="3">r</tspan><tspan dy="-3"> + γ</tspan></text>
<polygon points="559.4,239 564.7,239 564.7,268.8 568.5,268.8 562,279.3 555.5,268.8 559.4,268.8" fill="#c9eef8" stroke="#7fd0ea" stroke-width="0.9"/>
<text x="0" y="0" font-family="'Liberation Serif', serif" font-size="12.5" fill="#40a8e0" text-anchor="start" font-weight="normal" font-style="italic" transform="translate(567.3 263.5) scale(1.1 1)">η<tspan font-size="9" dy="2">r</tspan></text>
<text x="0" y="0" font-family="'Liberation Serif', serif" font-size="12.5" fill="#e81818" text-anchor="middle" font-weight="bold" font-style="italic" transform="translate(585 276) scale(1.3 1)">γ</text>
<polygon points="575,283 582.5,283 582.5,287.5 585,287.5 578.75,292.3 572.5,287.5 575,287.5" fill="#fde2b8" stroke="#f0a050" stroke-width="0.8"/>
<rect x="72" y="219.5" width="92" height="52" fill="#fff"/>
<text x="79.7" y="231.2" font-family="'Liberation Sans', sans-serif" font-size="11.5" fill="#111" text-anchor="start" font-weight="normal" font-style="normal" >Red-QLED</text>
<line x1="77" y1="247.9" x2="101.6" y2="247.9" stroke="#f07a8c" stroke-width="0.8" stroke-linecap="butt" />
<circle cx="89.3" cy="247.9" r="4.1" fill="#e9506a"/>
<text x="105.6" y="252" font-family="'Liberation Sans', sans-serif" font-size="11.5" fill="#ee3b55" text-anchor="start" font-weight="normal" font-style="normal" >PL roll-off</text>
<line x1="77" y1="262.4" x2="101.6" y2="262.4" stroke="#f07a8c" stroke-width="0.8" stroke-linecap="butt" />
<circle cx="89.3" cy="262.4" r="3.7" fill="#fff" stroke="#e9506a" stroke-width="0.9"/>
<text x="105.6" y="266.5" font-family="'Liberation Sans', sans-serif" font-size="11.5" fill="#ee3b55" text-anchor="start" font-weight="normal" font-style="normal" >EL roll-off</text>
<rect x="370" y="339" width="52" height="19" fill="#fff"/>
<line x1="372.7" y1="348.6" x2="384.5" y2="348.6" stroke="#6db872" stroke-width="0.9" stroke-linecap="butt" />
<line x1="394.5" y1="348.6" x2="406" y2="348.6" stroke="#6db872" stroke-width="0.9" stroke-linecap="butt" />
<polygon points="389.4,343.3 390.71,346.8 394.44,346.96 391.52,349.29 392.52,352.89 389.4,350.83 386.28,352.89 387.28,349.29 384.36,346.96 388.09,346.8" fill="#3f8a48"/>
<text x="410.5" y="352.5" font-family="'Liberation Serif', serif" font-size="13" fill="#4c9a4c" text-anchor="start" font-weight="normal" font-style="italic" >γ</text>
<text x="2.8" y="211.2" font-family="'Liberation Sans', sans-serif" font-size="20" fill="#000" text-anchor="start" font-weight="bold" font-style="normal" >b</text>
</g>
<g id="pc">
<defs><radialGradient id="gc" cx="0.55" cy="0.45" r="0.75"><stop offset="0" stop-color="#b3e1c8"/><stop offset="0.5" stop-color="#c6ead6"/><stop offset="1" stop-color="#e2f4ea"/></radialGradient></defs>
<rect x="86.1" y="397.3" width="84.80000000000001" height="130.49999999999994" fill="url(#gc)"/>
<line x1="71.05" y1="397.3" x2="71.05" y2="527.8" stroke="#cdcdcd" stroke-width="0.8" stroke-linecap="butt" stroke-dasharray="1 1" />
<line x1="97.75" y1="397.3" x2="97.75" y2="527.8" stroke="#cdcdcd" stroke-width="0.8" stroke-linecap="butt" stroke-dasharray="1 1" />
<line x1="124.45" y1="397.3" x2="124.45" y2="527.8" stroke="#cdcdcd" stroke-width="0.8" stroke-linecap="butt" stroke-dasharray="1 1" />
<line x1="151.15" y1="397.3" x2="151.15" y2="527.8" stroke="#cdcdcd" stroke-width="0.8" stroke-linecap="butt" stroke-dasharray="1 1" />
<line x1="177.85" y1="397.3" x2="177.85" y2="527.8" stroke="#cdcdcd" stroke-width="0.8" stroke-linecap="butt" stroke-dasharray="1 1" />
<line x1="57.7" y1="397.3" x2="191.5" y2="397.3" stroke="#222" stroke-width="1.1" stroke-linecap="butt" />
<line x1="57.7" y1="527.8" x2="191.5" y2="527.8" stroke="#222" stroke-width="1.1" stroke-linecap="butt" />
<line x1="57.7" y1="396.8" x2="57.7" y2="528.3" stroke="#f06070" stroke-width="1" stroke-linecap="butt" />
<line x1="191.5" y1="396.8" x2="191.5" y2="528.3" stroke="#222" stroke-width="1.1" stroke-linecap="butt" />
<line x1="57.7" y1="527.8" x2="57.7" y2="525.3" stroke="#222" stroke-width="1" stroke-linecap="butt" />
<line x1="57.7" y1="397.3" x2="57.7" y2="399.8" stroke="#222" stroke-width="1" stroke-linecap="butt" />
<line x1="71.05" y1="527.8" x2="71.05" y2="523.8" stroke="#222" stroke-width="1" stroke-linecap="butt" />
<line x1="71.05" y1="397.3" x2="71.05" y2="401.3" stroke="#222" stroke-width="1" stroke-linecap="butt" />
<line x1="84.4" y1="527.8" x2="84.4" y2="525.3" stroke="#222" stroke-width="1" stroke-linecap="butt" />
<line x1="84.4" y1="397.3" x2="84.4" y2="399.8" stroke="#222" stroke-width="1" stroke-linecap="butt" />
<line x1="97.75" y1="527.8" x2="97.75" y2="523.8" stroke="#222" stroke-width="1" stroke-linecap="butt" />
<line x1="97.75" y1="397.3" x2="97.75" y2="401.3" stroke="#222" stroke-width="1" stroke-linecap="butt" />
<line x1="111.1" y1="527.8" x2="111.1" y2="525.3" stroke="#222" stroke-width="1" stroke-linecap="butt" />
<line x1="111.1" y1="397.3" x2="111.1" y2="399.8" stroke="#222" stroke-width="1" stroke-linecap="butt" />
<line x1="124.45" y1="527.8" x2="124.45" y2="523.8" stroke="#222" stroke-width="1" stroke-linecap="butt" />
<line x1="124.45" y1="397.3" x2="124.45" y2="401.3" stroke="#222" stroke-width="1" stroke-linecap="butt" />
<line x1="137.8" y1="527.8" x2="137.8" y2="525.3" stroke="#222" stroke-width="1" stroke-linecap="butt" />
<line x1="137.8" y1="397.3" x2="137.8" y2="399.8" stroke="#222" stroke-width="1" stroke-linecap="butt" />
<line x1="151.15" y1="527.8" x2="151.15" y2="523.8" stroke="#222" stroke-width="1" stroke-linecap="butt" />
<line x1="151.15" y1="397.3" x2="151.15" y2="401.3" stroke="#222" stroke-width="1" stroke-linecap="butt" />
<line x1="164.5" y1="527.8" x2="164.5" y2="525.3" stroke="#222" stroke-width="1" stroke-linecap="butt" />
<line x1="164.5" y1="397.3" x2="164.5" y2="399.8" stroke="#222" stroke-width="1" stroke-linecap="butt" />
<line x1="177.85" y1="527.8" x2="177.85" y2="523.8" stroke="#222" stroke-width="1" stroke-linecap="butt" />
<line x1="177.85" y1="397.3" x2="177.85" y2="401.3" stroke="#222" stroke-width="1" stroke-linecap="butt" />
<line x1="191.2" y1="527.8" x2="191.2" y2="525.3" stroke="#222" stroke-width="1" stroke-linecap="butt" />
<line x1="191.2" y1="397.3" x2="191.2" y2="399.8" stroke="#222" stroke-width="1" stroke-linecap="butt" />
<text x="71.05" y="540.5" font-family="'Liberation Sans', sans-serif" font-size="11.5" fill="#111" text-anchor="middle" font-weight="normal" font-style="normal" >1.4</text>
<text x="97.75" y="540.5" font-family="'Liberation Sans', sans-serif" font-size="11.5" fill="#111" text-anchor="middle" font-weight="normal" font-style="normal" >1.6</text>
<text x="124.45" y="540.5" font-family="'Liberation Sans', sans-serif" font-size="11.5" fill="#111" text-anchor="middle" font-weight="normal" font-style="normal" >1.8</text>
<text x="151.15" y="540.5" font-family="'Liberation Sans', sans-serif" font-size="11.5" fill="#111" text-anchor="middle" font-weight="normal" font-style="normal" >2.0</text>
<text x="177.85" y="540.5" font-family="'Liberation Sans', sans-serif" font-size="11.5" fill="#111" text-anchor="middle" font-weight="normal" font-style="normal" >2.2</text>
<line x1="57.7" y1="527" x2="61.7" y2="527" stroke="#f06070" stroke-width="1" stroke-linecap="butt" />
<line x1="57.7" y1="516.2" x2="60.2" y2="516.2" stroke="#f06070" stroke-width="1" stroke-linecap="butt" />
<line x1="191.5" y1="527" x2="187.5" y2="527" stroke="#222" stroke-width="1" stroke-linecap="butt" />
<line x1="191.5" y1="516.2" x2="189" y2="516.2" stroke="#222" stroke-width="1" stroke-linecap="butt" />
<text x="53" y="531" font-family="'Liberation Sans', sans-serif" font-size="11.5" fill="#ee3b55" text-anchor="end" font-weight="normal" font-style="normal" >0.0</text>
<line x1="57.7" y1="505.4" x2="61.7" y2="505.4" stroke="#f06070" stroke-width="1" stroke-linecap="butt" />
<line x1="57.7" y1="494.6" x2="60.2" y2="494.6" stroke="#f06070" stroke-width="1" stroke-linecap="butt" />
<line x1="191.5" y1="505.4" x2="187.5" y2="505.4" stroke="#222" stroke-width="1" stroke-linecap="butt" />
<line x1="191.5" y1="494.6" x2="189" y2="494.6" stroke="#222" stroke-width="1" stroke-linecap="butt" />
<text x="53" y="509.4" font-family="'Liberation Sans', sans-serif" font-size="11.5" fill="#ee3b55" text-anchor="end" font-weight="normal" font-style="normal" >0.2</text>
<line x1="57.7" y1="483.8" x2="61.7" y2="483.8" stroke="#f06070" stroke-width="1" stroke-linecap="butt" />
<line x1="57.7" y1="473" x2="60.2" y2="473" stroke="#f06070" stroke-width="1" stroke-linecap="butt" />
<line x1="191.5" y1="483.8" x2="187.5" y2="483.8" stroke="#222" stroke-width="1" stroke-linecap="butt" />
<line x1="191.5" y1="473" x2="189" y2="473" stroke="#222" stroke-width="1" stroke-linecap="butt" />
<text x="53" y="487.8" font-family="'Liberation Sans', sans-serif" font-size="11.5" fill="#ee3b55" text-anchor="end" font-weight="normal" font-style="normal" >0.4</text>
<line x1="57.7" y1="462.2" x2="61.7" y2="462.2" stroke="#f06070" stroke-width="1" stroke-linecap="butt" />
<line x1="57.7" y1="451.4" x2="60.2" y2="451.4" stroke="#f06070" stroke-width="1" stroke-linecap="butt" />
<line x1="191.5" y1="462.2" x2="187.5" y2="462.2" stroke="#222" stroke-width="1" stroke-linecap="butt" />
<line x1="191.5" y1="451.4" x2="189" y2="451.4" stroke="#222" stroke-width="1" stroke-linecap="butt" />
<text x="53" y="466.2" font-family="'Liberation Sans', sans-serif" font-size="11.5" fill="#ee3b55" text-anchor="end" font-weight="normal" font-style="normal" >0.6</text>
<line x1="57.7" y1="440.6" x2="61.7" y2="440.6" stroke="#f06070" stroke-width="1" stroke-linecap="butt" />
<line x1="57.7" y1="429.8" x2="60.2" y2="429.8" stroke="#f06070" stroke-width="1" stroke-linecap="butt" />
<line x1="191.5" y1="440.6" x2="187.5" y2="440.6" stroke="#222" stroke-width="1" stroke-linecap="butt" />
<line x1="191.5" y1="429.8" x2="189" y2="429.8" stroke="#222" stroke-width="1" stroke-linecap="butt" />
<text x="53" y="444.6" font-family="'Liberation Sans', sans-serif" font-size="11.5" fill="#ee3b55" text-anchor="end" font-weight="normal" font-style="normal" >0.8</text>
<line x1="57.7" y1="419" x2="61.7" y2="419" stroke="#f06070" stroke-width="1" stroke-linecap="butt" />
<line x1="57.7" y1="408.2" x2="60.2" y2="408.2" stroke="#f06070" stroke-width="1" stroke-linecap="butt" />
<line x1="191.5" y1="419" x2="187.5" y2="419" stroke="#222" stroke-width="1" stroke-linecap="butt" />
<line x1="191.5" y1="408.2" x2="189" y2="408.2" stroke="#222" stroke-width="1" stroke-linecap="butt" />
<text x="53" y="423" font-family="'Liberation Sans', sans-serif" font-size="11.5" fill="#ee3b55" text-anchor="end" font-weight="normal" font-style="normal" >1.0</text>
<line x1="57.7" y1="397.4" x2="61.7" y2="397.4" stroke="#f06070" stroke-width="1" stroke-linecap="butt" />
<line x1="191.5" y1="397.4" x2="187.5" y2="397.4" stroke="#222" stroke-width="1" stroke-linecap="butt" />
<text x="53" y="401.4" font-family="'Liberation Sans', sans-serif" font-size="11.5" fill="#ee3b55" text-anchor="end" font-weight="normal" font-style="normal" >1.2</text>
<text x="25.5" y="557" font-family="'Liberation Sans', sans-serif" font-size="12.5" fill="#ee3b55" text-anchor="middle" font-weight="normal" font-style="normal" transform="rotate(-90 25.5 557)" >Normalized PL &amp; EL (arb. units)</text>
<clipPath id="clipC"><rect x="57.7" y="397.3" width="133.8" height="136.49999999999994"/></clipPath>
<g clip-path="url(#clipC)">
<path d="M57.7,427.42 C59.92,427.12 66.6,426.51 71.05,425.59 C75.5,424.67 79.95,422.65 84.4,421.92 C88.85,421.18 93.3,421.81 97.75,421.16 C102.2,420.51 106.65,418.08 111.1,418.03 C115.55,417.97 120,420.62 124.45,420.84 C128.9,421.05 133.35,419.32 137.8,419.32 C142.25,419.32 146.7,420.89 151.15,420.84 C155.6,420.78 160.05,419.65 164.5,419 C168.95,418.35 173.4,417.25 177.85,416.95 C182.3,416.64 188.97,417.13 191.2,417.16" fill="none" stroke="#f07a8c" stroke-width="0.8"/>
<path d="M57.7,527 C58.81,527 62.15,527 64.38,527 C66.6,527 68.82,527 71.05,527 C73.27,527 75.5,527 77.72,527 C79.95,527 82.18,527 84.4,527 C86.62,527 88.85,527.14 91.08,527 C93.3,526.86 95.53,526.86 97.75,526.14 C99.97,525.42 102.2,524.73 104.42,522.68 C106.65,520.63 108.87,518.11 111.1,513.82 C113.33,509.54 115.55,503.24 117.78,496.98 C120,490.71 122.23,482.94 124.45,476.24 C126.67,469.54 128.9,462.47 131.12,456.8 C133.35,451.13 135.57,446.22 137.8,442.22 C140.02,438.22 142.25,435.43 144.47,432.82 C146.7,430.21 148.92,428.18 151.15,426.56 C153.37,424.94 155.6,423.97 157.82,423.1 C160.05,422.24 162.28,421.88 164.5,421.38 C166.72,420.87 168.95,420.44 171.17,420.08 C173.4,419.72 175.63,419.4 177.85,419.22 C180.08,419.04 182.3,419.04 184.52,419 C186.75,418.96 190.09,419 191.2,419" fill="none" stroke="#f07a8c" stroke-width="0.8"/>
<circle cx="57.7" cy="527" r="3.1" fill="#fff" stroke="#e9506a" stroke-width="0.8"/>
<circle cx="64.38" cy="527" r="3.1" fill="#fff" stroke="#e9506a" stroke-width="0.8"/>
<circle cx="71.05" cy="527" r="3.1" fill="#fff" stroke="#e9506a" stroke-width="0.8"/>
<circle cx="77.72" cy="527" r="3.1" fill="#fff" stroke="#e9506a" stroke-width="0.8"/>
<circle cx="84.4" cy="527" r="3.1" fill="#fff" stroke="#e9506a" stroke-width="0.8"/>
<circle cx="91.08" cy="527" r="3.1" fill="#fff" stroke="#e9506a" stroke-width="0.8"/>
<circle cx="97.75" cy="526.14" r="3.1" fill="#fff" stroke="#e9506a" stroke-width="0.8"/>
<circle cx="104.42" cy="522.68" r="3.1" fill="#fff" stroke="#e9506a" stroke-width="0.8"/>
<circle cx="111.1" cy="513.82" r="3.1" fill="#fff" stroke="#e9506a" stroke-width="0.8"/>
<circle cx="117.78" cy="496.98" r="3.1" fill="#fff" stroke="#e9506a" stroke-width="0.8"/>
<circle cx="124.45" cy="476.24" r="3.1" fill="#fff" stroke="#e9506a" stroke-width="0.8"/>
<circle cx="131.12" cy="456.8" r="3.1" fill="#fff" stroke="#e9506a" stroke-width="0.8"/>
<circle cx="137.8" cy="442.22" r="3.1" fill="#fff" stroke="#e9506a" stroke-width="0.8"/>
<circle cx="144.47" cy="432.82" r="3.1" fill="#fff" stroke="#e9506a" stroke-width="0.8"/>
<circle cx="151.15" cy="426.56" r="3.1" fill="#fff" stroke="#e9506a" stroke-width="0.8"/>
<circle cx="157.82" cy="423.1" r="3.1" fill="#fff" stroke="#e9506a" stroke-width="0.8"/>
<circle cx="164.5" cy="421.38" r="3.1" fill="#fff" stroke="#e9506a" stroke-width="0.8"/>
<circle cx="171.17" cy="420.08" r="3.1" fill="#fff" stroke="#e9506a" stroke-width="0.8"/>
<circle cx="177.85" cy="419.22" r="3.1" fill="#fff" stroke="#e9506a" stroke-width="0.8"/>
<circle cx="184.52" cy="419" r="3.1" fill="#fff" stroke="#e9506a" stroke-width="0.8"/>
<circle cx="191.2" cy="419" r="3.1" fill="#fff" stroke="#e9506a" stroke-width="0.8"/>
<circle cx="71.05" cy="425.59" r="3.4" fill="#e9506a"/>
<circle cx="84.4" cy="421.92" r="3.4" fill="#e9506a"/>
<circle cx="97.75" cy="421.16" r="3.4" fill="#e9506a"/>
<circle cx="111.1" cy="418.03" r="3.4" fill="#e9506a"/>
<circle cx="124.45" cy="420.84" r="3.4" fill="#e9506a"/>
<circle cx="137.8" cy="419.32" r="3.4" fill="#e9506a"/>
<circle cx="151.15" cy="420.84" r="3.4" fill="#e9506a"/>
<circle cx="164.5" cy="419" r="3.4" fill="#e9506a"/>
<circle cx="177.85" cy="416.95" r="3.4" fill="#e9506a"/>
<circle cx="191.2" cy="417.16" r="3.4" fill="#e9506a"/>
</g>
<text x="0" y="0" font-family="'Liberation Serif', serif" font-size="12" fill="#222" text-anchor="start" font-weight="normal" font-style="italic" transform="translate(91.2 411.5) scale(1.0 1)"><tspan>V</tspan><tspan font-size="7.5" dy="2">T</tspan><tspan dy="-2"> &lt; V &lt; V</tspan><tspan font-size="7.5" dy="2">EL</tspan><tspan font-size="6" dy="2">MAX</tspan></text>
<line x1="150.3" y1="421" x2="150.3" y2="473" stroke="#8a2be2" stroke-width="2.2" stroke-linecap="butt" stroke-dasharray="2.2 3.5" />
<polygon points="146.5,471 154.1,471 150.3,481" fill="#8a2be2"/>
<text x="0" y="0" font-family="'Liberation Serif', serif" font-size="13.5" fill="#6a35c0" text-anchor="middle" font-weight="bold" font-style="italic" transform="translate(173.8 466.5) scale(1.22 1)">hν/e</text>
<text x="119.5" y="452.5" font-family="'Liberation Sans', sans-serif" font-size="13.5" fill="#6a32c4" text-anchor="middle" font-weight="normal" font-style="italic" transform="rotate(-57 119.5 452.5)" dominant-baseline="middle">Gap</text>
<text x="75.8" y="487.6" font-family="'Liberation Sans', sans-serif" font-size="12.3" fill="#111" text-anchor="start" font-weight="normal" font-style="italic" >Stage 1</text>
<line x1="122.3" y1="505.1" x2="142" y2="505.1" stroke="#f07a8c" stroke-width="0.8" stroke-linecap="butt" />
<circle cx="131.5" cy="505.1" r="3.6" fill="#e9506a"/>
<text x="145.2" y="508.8" font-family="'Liberation Sans', sans-serif" font-size="9.7" fill="#ee3b55" text-anchor="start" font-weight="normal" font-style="normal" >PL roll-off</text>
<line x1="122.3" y1="516.5" x2="142" y2="516.5" stroke="#f07a8c" stroke-width="0.8" stroke-linecap="butt" />
<circle cx="131.5" cy="516.5" r="3.3" fill="#fff" stroke="#e9506a" stroke-width="0.9"/>
<text x="145.2" y="520.2" font-family="'Liberation Sans', sans-serif" font-size="9.7" fill="#ee3b55" text-anchor="start" font-weight="normal" font-style="normal" >EL roll-off</text>
<text x="2.6" y="404.2" font-family="'Liberation Sans', sans-serif" font-size="20" fill="#000" text-anchor="start" font-weight="bold" font-style="normal" >c</text>
</g>
<g id="pd">
<defs><linearGradient id="gd" x1="0" y1="0" x2="0" y2="1"><stop offset="0" stop-color="#f0f6fb"/><stop offset="0.4" stop-color="#d2e3f2"/><stop offset="0.8" stop-color="#abc9e6"/><stop offset="1" stop-color="#b8d2ea"/></linearGradient><linearGradient id="gd2" x1="0" y1="0" x2="1" y2="0"><stop offset="0" stop-color="#fff" stop-opacity="0.35"/><stop offset="0.2" stop-color="#fff" stop-opacity="0"/><stop offset="0.8" stop-color="#fff" stop-opacity="0"/><stop offset="1" stop-color="#fff" stop-opacity="0.3"/></linearGradient></defs>
<rect x="102.8" y="554.5" width="80.2" height="131.0" fill="url(#gd)"/>
<rect x="102.8" y="554.5" width="80.2" height="131.0" fill="url(#gd2)"/>
<line x1="74.5" y1="554.5" x2="74.5" y2="685.5" stroke="#cdcdcd" stroke-width="0.8" stroke-linecap="butt" stroke-dasharray="1 1" />
<line x1="91.2" y1="554.5" x2="91.2" y2="685.5" stroke="#cdcdcd" stroke-width="0.8" stroke-linecap="butt" stroke-dasharray="1 1" />
<line x1="107.9" y1="554.5" x2="107.9" y2="685.5" stroke="#cdcdcd" stroke-width="0.8" stroke-linecap="butt" stroke-dasharray="1 1" />
<line x1="124.6" y1="554.5" x2="124.6" y2="685.5" stroke="#cdcdcd" stroke-width="0.8" stroke-linecap="butt" stroke-dasharray="1 1" />
<line x1="141.3" y1="554.5" x2="141.3" y2="685.5" stroke="#cdcdcd" stroke-width="0.8" stroke-linecap="butt" stroke-dasharray="1 1" />
<line x1="158" y1="554.5" x2="158" y2="685.5" stroke="#cdcdcd" stroke-width="0.8" stroke-linecap="butt" stroke-dasharray="1 1" />
<line x1="174.7" y1="554.5" x2="174.7" y2="685.5" stroke="#cdcdcd" stroke-width="0.8" stroke-linecap="butt" stroke-dasharray="1 1" />
<line x1="57.7" y1="554.5" x2="191.5" y2="554.5" stroke="#222" stroke-width="1.1" stroke-linecap="butt" />
<line x1="57.7" y1="685.5" x2="191.5" y2="685.5" stroke="#222" stroke-width="1.1" stroke-linecap="butt" />
<line x1="57.7" y1="554" x2="57.7" y2="686" stroke="#f06070" stroke-width="1" stroke-linecap="butt" />
<line x1="191.5" y1="554" x2="191.5" y2="686" stroke="#222" stroke-width="1.1" stroke-linecap="butt" />
<line x1="57.8" y1="685.5" x2="57.8" y2="683" stroke="#222" stroke-width="1" stroke-linecap="butt" />
<line x1="57.8" y1="554.5" x2="57.8" y2="557" stroke="#222" stroke-width="1" stroke-linecap="butt" />
<line x1="74.5" y1="685.5" x2="74.5" y2="681.5" stroke="#222" stroke-width="1" stroke-linecap="butt" />
<line x1="74.5" y1="554.5" x2="74.5" y2="558.5" stroke="#222" stroke-width="1" stroke-linecap="butt" />
<line x1="91.2" y1="685.5" x2="91.2" y2="683" stroke="#222" stroke-width="1" stroke-linecap="butt" />
<line x1="91.2" y1="554.5" x2="91.2" y2="557" stroke="#222" stroke-width="1" stroke-linecap="butt" />
<line x1="107.9" y1="685.5" x2="107.9" y2="681.5" stroke="#222" stroke-width="1" stroke-linecap="butt" />
<line x1="107.9" y1="554.5" x2="107.9" y2="558.5" stroke="#222" stroke-width="1" stroke-linecap="butt" />
<line x1="124.6" y1="685.5" x2="124.6" y2="683" stroke="#222" stroke-width="1" stroke-linecap="butt" />
<line x1="124.6" y1="554.5" x2="124.6" y2="557" stroke="#222" stroke-width="1" stroke-linecap="butt" />
<line x1="141.3" y1="685.5" x2="141.3" y2="681.5" stroke="#222" stroke-width="1" stroke-linecap="butt" />
<line x1="141.3" y1="554.5" x2="141.3" y2="558.5" stroke="#222" stroke-width="1" stroke-linecap="butt" />
<line x1="158" y1="685.5" x2="158" y2="683" stroke="#222" stroke-width="1" stroke-linecap="butt" />
<line x1="158" y1="554.5" x2="158" y2="557" stroke="#222" stroke-width="1" stroke-linecap="butt" />
<line x1="174.7" y1="685.5" x2="174.7" y2="681.5" stroke="#222" stroke-width="1" stroke-linecap="butt" />
<line x1="174.7" y1="554.5" x2="174.7" y2="558.5" stroke="#222" stroke-width="1" stroke-linecap="butt" />
<line x1="191.4" y1="685.5" x2="191.4" y2="683" stroke="#222" stroke-width="1" stroke-linecap="butt" />
<line x1="191.4" y1="554.5" x2="191.4" y2="557" stroke="#222" stroke-width="1" stroke-linecap="butt" />
<text x="74.5" y="697.8" font-family="'Liberation Sans', sans-serif" font-size="11.5" fill="#111" text-anchor="middle" font-weight="normal" font-style="normal" >5</text>
<text x="107.9" y="697.8" font-family="'Liberation Sans', sans-serif" font-size="11.5" fill="#111" text-anchor="middle" font-weight="normal" font-style="normal" >6</text>
<text x="141.3" y="697.8" font-family="'Liberation Sans', sans-serif" font-size="11.5" fill="#111" text-anchor="middle" font-weight="normal" font-style="normal" >7</text>
<text x="174.7" y="697.8" font-family="'Liberation Sans', sans-serif" font-size="11.5" fill="#111" text-anchor="middle" font-weight="normal" font-style="normal" >8</text>
<text x="124.5" y="716.2" font-family="'Liberation Sans', sans-serif" font-size="12.3" fill="#111" text-anchor="middle" font-weight="normal" font-style="normal" >Voltage (V)</text>
<line x1="57.7" y1="663.6" x2="61.7" y2="663.6" stroke="#f06070" stroke-width="1" stroke-linecap="butt" />
<line x1="191.5" y1="663.6" x2="187.5" y2="663.6" stroke="#222" stroke-width="1" stroke-linecap="butt" />
<text x="53" y="667.6" font-family="'Liberation Sans', sans-serif" font-size="11.5" fill="#ee3b55" text-anchor="end" font-weight="normal" font-style="normal" >0.6</text>
<line x1="57.7" y1="619.8" x2="61.7" y2="619.8" stroke="#f06070" stroke-width="1" stroke-linecap="butt" />
<line x1="191.5" y1="619.8" x2="187.5" y2="619.8" stroke="#222" stroke-width="1" stroke-linecap="butt" />
<text x="53" y="623.8" font-family="'Liberation Sans', sans-serif" font-size="11.5" fill="#ee3b55" text-anchor="end" font-weight="normal" font-style="normal" >0.7</text>
<line x1="57.7" y1="576" x2="61.7" y2="576" stroke="#f06070" stroke-width="1" stroke-linecap="butt" />
<line x1="191.5" y1="576" x2="187.5" y2="576" stroke="#222" stroke-width="1" stroke-linecap="butt" />
<text x="53" y="580" font-family="'Liberation Sans', sans-serif" font-size="11.5" fill="#ee3b55" text-anchor="end" font-weight="normal" font-style="normal" >0.8</text>
<line x1="57.7" y1="685.5" x2="60.2" y2="685.5" stroke="#f06070" stroke-width="1" stroke-linecap="butt" />
<line x1="191.5" y1="685.5" x2="189" y2="685.5" stroke="#222" stroke-width="1" stroke-linecap="butt" />
<line x1="57.7" y1="641.7" x2="60.2" y2="641.7" stroke="#f06070" stroke-width="1" stroke-linecap="butt" />
<line x1="191.5" y1="641.7" x2="189" y2="641.7" stroke="#222" stroke-width="1" stroke-linecap="butt" />
<line x1="57.7" y1="597.9" x2="60.2" y2="597.9" stroke="#f06070" stroke-width="1" stroke-linecap="butt" />
<line x1="191.5" y1="597.9" x2="189" y2="597.9" stroke="#222" stroke-width="1" stroke-linecap="butt" />
<line x1="57.7" y1="554.1" x2="60.2" y2="554.1" stroke="#f06070" stroke-width="1" stroke-linecap="butt" />
<line x1="191.5" y1="554.1" x2="189" y2="554.1" stroke="#222" stroke-width="1" stroke-linecap="butt" />
<clipPath id="clipD"><rect x="57.7" y="554.5" width="133.8" height="131.0"/></clipPath>
<g clip-path="url(#clipD)">
<polyline points="57.8,558.48 74.5,570.31 107.9,598.34 141.3,621.99 174.7,652.21" fill="none" stroke="#f07a8c" stroke-width="0.8" />
<polyline points="57.8,560.23 74.5,574.25 107.9,603.16 141.3,639.07 174.7,670.17" fill="none" stroke="#f07a8c" stroke-width="0.8" />
<circle cx="57.8" cy="560.23" r="3.2" fill="#fff" stroke="#e9506a" stroke-width="0.8"/>
<circle cx="74.5" cy="574.25" r="3.2" fill="#fff" stroke="#e9506a" stroke-width="0.8"/>
<circle cx="107.9" cy="603.16" r="3.2" fill="#fff" stroke="#e9506a" stroke-width="0.8"/>
<circle cx="141.3" cy="639.07" r="3.2" fill="#fff" stroke="#e9506a" stroke-width="0.8"/>
<circle cx="174.7" cy="670.17" r="3.2" fill="#fff" stroke="#e9506a" stroke-width="0.8"/>
<circle cx="57.8" cy="558.48" r="3.4" fill="#e9506a"/>
<circle cx="74.5" cy="570.31" r="3.4" fill="#e9506a"/>
<circle cx="107.9" cy="598.34" r="3.4" fill="#e9506a"/>
<circle cx="141.3" cy="621.99" r="3.4" fill="#e9506a"/>
<circle cx="174.7" cy="652.21" r="3.4" fill="#e9506a"/>
</g>
<text x="0" y="0" font-family="'Liberation Serif', serif" font-size="12" fill="#222" text-anchor="start" font-weight="normal" font-style="normal" transform="translate(104.5 578.3) scale(1.08 1)">&gt; 1000 <tspan font-style="italic">mA cm</tspan><tspan font-size="8.5" dy="-4.5">−2</tspan></text>
<text x="157.4" y="646" font-family="'Liberation Sans', sans-serif" font-size="13.5" fill="#7040c8" text-anchor="middle" font-weight="normal" font-style="italic" transform="rotate(42 157.4 646)" dominant-baseline="middle">Gap</text>
<text x="69" y="648.6" font-family="'Liberation Sans', sans-serif" font-size="11.8" fill="#111" text-anchor="start" font-weight="normal" font-style="italic" >Stage 2</text>
<line x1="64.2" y1="661.4" x2="84.1" y2="661.4" stroke="#f07a8c" stroke-width="0.8" stroke-linecap="butt" />
<circle cx="74.5" cy="661.4" r="3.6" fill="#e9506a"/>
<text x="88.3" y="665.1" font-family="'Liberation Sans', sans-serif" font-size="10" fill="#ee3b55" text-anchor="start" font-weight="normal" font-style="normal" >PL roll-off</text>
<line x1="64.2" y1="672.3" x2="84.1" y2="672.3" stroke="#f07a8c" stroke-width="0.8" stroke-linecap="butt" />
<circle cx="74.5" cy="672.3" r="3.3" fill="#fff" stroke="#e9506a" stroke-width="0.9"/>
<text x="88.3" y="676" font-family="'Liberation Sans', sans-serif" font-size="10" fill="#ee3b55" text-anchor="start" font-weight="normal" font-style="normal" >EL roll-off</text>
<text x="2.6" y="565.8" font-family="'Liberation Sans', sans-serif" font-size="20" fill="#000" text-anchor="start" font-weight="bold" font-style="normal" >d</text>
</g>
<g id="pe">
<defs>
<radialGradient id="gsrc" cx="0.5" cy="0.5" r="0.6"><stop offset="0" stop-color="#ecd6dc"/><stop offset="1" stop-color="#d9d9d9"/></radialGradient>
<linearGradient id="gsig" x1="0" y1="0" x2="1" y2="0.3"><stop offset="0" stop-color="#efd3da"/><stop offset="1" stop-color="#dcdcdc"/></linearGradient>
<linearGradient id="gosc" x1="0" y1="0" x2="1" y2="1"><stop offset="0" stop-color="#dcdcdc"/><stop offset="0.45" stop-color="#ddccd0"/><stop offset="1" stop-color="#dd98a8"/></linearGradient>
<linearGradient id="glock" x1="0" y1="0" x2="1" y2="1"><stop offset="0" stop-color="#dcdcdc"/><stop offset="0.5" stop-color="#dcd0d2"/><stop offset="1" stop-color="#dca8b4"/></linearGradient>
<linearGradient id="garrow" x1="0" y1="0" x2="1" y2="0"><stop offset="0" stop-color="#ece6dc"/><stop offset="0.5" stop-color="#edd9b0"/><stop offset="1" stop-color="#eab84c"/></linearGradient>
<radialGradient id="gglow" cx="0.5" cy="0.5" r="0.5"><stop offset="0" stop-color="#ec9660"/><stop offset="0.55" stop-color="#f0ae84"/><stop offset="0.8" stop-color="#f4cdb4" stop-opacity="0.8"/><stop offset="1" stop-color="#f6e6dc" stop-opacity="0"/></radialGradient>
<radialGradient id="gred" cx="0.4" cy="0.35" r="0.7"><stop offset="0" stop-color="#f8a0a0"/><stop offset="0.5" stop-color="#e04848"/><stop offset="1" stop-color="#a02828"/></radialGradient>
<radialGradient id="ggold" cx="0.35" cy="0.35" r="0.7"><stop offset="0" stop-color="#fff2a0"/><stop offset="0.6" stop-color="#e8b820"/><stop offset="1" stop-color="#a07810"/></radialGradient>
<linearGradient id="gapd" x1="0" y1="0" x2="1" y2="0"><stop offset="0" stop-color="#e6e6e8"/><stop offset="0.5" stop-color="#f4f4f6"/><stop offset="1" stop-color="#c8c8cc"/></linearGradient>
</defs>
<text x="222.3" y="428" font-family="'Liberation Sans', sans-serif" font-size="19" fill="#000" text-anchor="start" font-weight="bold" font-style="normal" >e</text>
<text x="239" y="428" font-family="'Liberation Sans', sans-serif" font-size="12.3" fill="#111" text-anchor="start" font-weight="normal" font-style="normal" >Simultaneous EL-PL measurement</text>
<rect x="364.5" y="438.2" width="115.8" height="78.7" fill="#f3f4f8"/>
<rect x="246.1" y="455" width="67.6" height="37" fill="url(#gsrc)"/>
<text x="279.8" y="470.8" font-family="'Liberation Sans', sans-serif" font-size="12.3" fill="#222" text-anchor="middle" font-weight="normal" font-style="normal" >Source</text>
<text x="280" y="486.2" font-family="'Liberation Sans', sans-serif" font-size="12.3" fill="#222" text-anchor="middle" font-weight="normal" font-style="normal" >meter</text>
<polyline points="310.8,463.5 343.4,463.5 343.4,440.3 411.7,440.3 411.7,448" fill="none" stroke="#7799dd" stroke-width="0.9" />
<polyline points="310.8,482.4 343.4,482.4 343.4,484.8 375.5,484.8" fill="none" stroke="#7799dd" stroke-width="0.9" />
<line x1="302" y1="463.5" x2="311" y2="463.5" stroke="#f0c038" stroke-width="1.6" stroke-linecap="butt" />
<line x1="306.5" y1="459" x2="306.5" y2="468" stroke="#f0c038" stroke-width="1.6" stroke-linecap="butt" />
<line x1="302" y1="482.4" x2="311" y2="482.4" stroke="#f0c038" stroke-width="1.8" stroke-linecap="butt" />

<polygon points="376.5,451 384,443 384,507 376.5,514" fill="#d4d4d8"/>
<ellipse cx="390" cy="477" rx="19" ry="40" fill="url(#gglow)"/>
<polygon points="376.7,457.5 386,449 386,505 376.7,512.5" fill="#d6d6da" fill-opacity="0.85"/>
<polygon points="403.9,458.9 414.6,448.9 414.6,501.6 403.7,512.7 397,512.7" fill="#fbfbfb" stroke="#8a8a8a" stroke-width="0.6"/>
<circle cx="383.7" cy="455.5" r="2.7" fill="url(#ggold)"/>
<circle cx="383.7" cy="461.37" r="2.7" fill="url(#ggold)"/>
<circle cx="383.7" cy="467.24" r="2.7" fill="url(#ggold)"/>
<circle cx="383.7" cy="473.11" r="2.7" fill="url(#ggold)"/>
<circle cx="383.7" cy="478.98" r="2.7" fill="url(#ggold)"/>
<circle cx="383.7" cy="484.85" r="2.7" fill="url(#ggold)"/>
<circle cx="383.7" cy="490.72" r="2.7" fill="url(#ggold)"/>
<circle cx="383.7" cy="496.59" r="2.7" fill="url(#ggold)"/>
<circle cx="383.7" cy="502.46" r="2.7" fill="url(#ggold)"/>
<circle cx="392.5" cy="457.8" r="5.6" fill="url(#gred)"/>
<circle cx="392.5" cy="471.6" r="5.6" fill="url(#gred)"/>
<circle cx="392.5" cy="484.8" r="5.6" fill="url(#gred)"/>
<circle cx="392.5" cy="498.2" r="5.6" fill="url(#gred)"/>
<polygon points="392.8,458.3 405,448.3 405,497.5 395.2,512.6 392.8,512.8" fill="#2e5f88" fill-opacity="0.82"/>
<polygon points="392.8,458.3 394.5,456.9 394.5,512.7 392.8,512.8" fill="#78c8e0"/>
<polygon points="393.2,490.2 405.5,498.5 404.5,500.5 413,508.6 409.5,513.3 402.5,504.5" fill="#8ee04c"/>
<text x="419.6" y="452.4" font-family="'Liberation Sans', sans-serif" font-size="10.6" fill="#222" text-anchor="start" font-weight="normal" font-style="normal" >QLED</text>
<polygon points="407,466.8 451.7,466.8 451.7,461.5 462.2,471.7 451.7,482.6 451.7,477.3 407,477.3" fill="url(#garrow)"/>
<polygon points="407,485.7 467.4,485.7 467.4,480.8 478,491.2 467.4,501.5 467.4,496.2 407,496.2" fill="url(#garrow)"/>
<text x="420.1" y="475.5" font-family="'Liberation Sans', sans-serif" font-size="9.5" fill="#333" text-anchor="start" font-weight="normal" font-style="normal" >EL</text>
<text x="420.1" y="494.5" font-family="'Liberation Sans', sans-serif" font-size="9.5" fill="#333" text-anchor="start" font-weight="normal" font-style="normal" >PL</text>
<path d="M433.3,494.8 L438.2,494.8 L438.2,488.7 L445.9,488.7 L445.9,494.8 L453.4,494.8 L453.4,488.7 L461,488.7 L461,494.8 L464,494.8" fill="none" stroke="#f04020" stroke-width="1.3"/>
<text x="482.3" y="448" font-family="'Liberation Sans', sans-serif" font-size="10.6" fill="#222" text-anchor="start" font-weight="normal" font-style="normal" >Si-APD</text>
<ellipse cx="498.5" cy="480.4" rx="5.6" ry="24.6" fill="url(#gapd)" stroke="#c0c0c4" stroke-width="0.6"/>
<polyline points="504,480.3 524.3,480.3 524.3,501.6 567.5,501.6 567.5,484" fill="none" stroke="#7799dd" stroke-width="0.9" />
<polyline points="513,480.3 513,514.5 561.6,514.5 561.6,548" fill="none" stroke="#7799dd" stroke-width="0.9" />
<polyline points="616.7,484 616.7,513.2 602.1,513.2 602.1,541" fill="none" stroke="#7799dd" stroke-width="0.9" />
<circle cx="513" cy="480.3" r="3" fill="#3a78c8"/>
<rect x="549.1" y="441.3" width="107" height="48.1" fill="url(#gosc)"/>
<text x="602.6" y="470.5" font-family="'Liberation Sans', sans-serif" font-size="12.4" fill="#222" text-anchor="middle" font-weight="normal" font-style="normal" >Oscilloscope</text>
<circle cx="567.5" cy="480.5" r="5" fill="#f0c038"/>
<text x="574.8" y="484" font-family="'Liberation Sans', sans-serif" font-size="9.5" fill="#222" text-anchor="start" font-weight="normal" font-style="normal" >CH1</text>
<circle cx="616.7" cy="480.5" r="5" fill="#f0c038"/>
<text x="623.7" y="484.8" font-family="'Liberation Sans', sans-serif" font-size="9.5" fill="#222" text-anchor="start" font-weight="normal" font-style="normal" >CH2</text>
<rect x="549.1" y="541.3" width="107" height="47.5" fill="url(#glock)"/>
<circle cx="560.9" cy="550.2" r="5" fill="#f0c038"/>
<text x="568.8" y="553.8" font-family="'Liberation Sans', sans-serif" font-size="9.5" fill="#222" text-anchor="start" font-weight="normal" font-style="normal" >Input</text>
<text x="602.7" y="569.9" font-family="'Liberation Sans', sans-serif" font-size="12.3" fill="#222" text-anchor="middle" font-weight="normal" font-style="normal" >Lock-in amplifier</text>
<circle cx="560.9" cy="578.1" r="5" fill="#f0c038"/>
<text x="568.8" y="581.5" font-family="'Liberation Sans', sans-serif" font-size="9.5" fill="#222" text-anchor="start" font-weight="normal" font-style="normal" >Reference</text>
<rect x="246.4" y="552" width="67.5" height="36.3" fill="url(#gsig)"/>
<text x="280.2" y="567.4" font-family="'Liberation Sans', sans-serif" font-size="12.3" fill="#222" text-anchor="middle" font-weight="normal" font-style="normal" >Signal</text>
<text x="280.2" y="582.9" font-family="'Liberation Sans', sans-serif" font-size="12.3" fill="#222" text-anchor="middle" font-weight="normal" font-style="normal" >generator</text>
<circle cx="309" cy="561.7" r="2" fill="#f0c038"/>
<circle cx="309" cy="579.6" r="2" fill="#f0c038"/>
<path d="M320,570 L325.5,570 L325.5,564.5 L331.5,564.5 L331.5,576.5 L337.5,576.5 L337.5,570 L343,570" fill="none" stroke="#f04020" stroke-width="1.4"/>
<path d="M320,570 L343,570" fill="none" stroke="#f8a080" stroke-width="0.6" stroke-dasharray="1.5 1.5"/>
<g transform="rotate(-36 431 540)"><rect x="406" y="526" width="50" height="28" fill="#d3d3d3"/><rect x="414" y="498" width="17" height="30" fill="#d3d3d3"/></g>
<text x="431" y="544.5" font-family="'Liberation Sans', sans-serif" font-size="11" fill="#222" text-anchor="middle" font-weight="normal" font-style="normal" transform="rotate(-36 431 540.5)" >Laser</text>
<circle cx="413.3" cy="545.5" r="2" fill="#f0c038"/>
<circle cx="421.2" cy="556.2" r="2" fill="#f0c038"/>
<polyline points="309,561.7 405.1,561.7" fill="none" stroke="#7799dd" stroke-width="0.9" />
<polyline points="309,579.6 405.1,579.6" fill="none" stroke="#7799dd" stroke-width="0.9" />
<polyline points="405.1,561 411.4,561 411.4,545.5" fill="none" stroke="#7799dd" stroke-width="0.9" />
<polyline points="405.1,561.7 405.1,565 417.5,565" fill="none" stroke="#7799dd" stroke-width="0.9" />
<path d="M417.5,565 Q419.3,568 421.2,565" fill="none" stroke="#7799dd" stroke-width="0.9"/>
<polyline points="421.2,565 489.4,565.2 489.4,577.8 556,577.8" fill="none" stroke="#7799dd" stroke-width="0.9" />
<polyline points="405.1,579.6 405.1,574.7 417.5,574.7" fill="none" stroke="#7799dd" stroke-width="0.9" />
<path d="M417.5,574.7 Q419.3,577.7 421.2,574.7" fill="none" stroke="#7799dd" stroke-width="0.9"/>
<polyline points="421.2,574.7 489.4,575.2" fill="none" stroke="#7799dd" stroke-width="0.9" />
<line x1="419.3" y1="556.2" x2="419.3" y2="578.8" stroke="#7799dd" stroke-width="0.9" stroke-linecap="butt" />
<circle cx="405.1" cy="561.2" r="3" fill="#3a78c8"/>
<circle cx="405.1" cy="579.6" r="3" fill="#3a78c8"/>
</g>
<g id="pf">
<defs>
<linearGradient id="fbg" x1="0" y1="0" x2="0" y2="1"><stop offset="0" stop-color="#42443c"/><stop offset="0.2" stop-color="#52544a"/><stop offset="0.5" stop-color="#4a4c43"/><stop offset="0.8" stop-color="#505248"/><stop offset="1" stop-color="#404238"/></linearGradient>
<linearGradient id="fholder" x1="0" y1="0" x2="1" y2="0"><stop offset="0" stop-color="#2e2220"/><stop offset="0.6" stop-color="#2a1e1c"/><stop offset="1" stop-color="#2c2624"/></linearGradient>
<radialGradient id="fglow1" cx="0.5" cy="0.5" r="0.5"><stop offset="0" stop-color="#ff6a3a"/><stop offset="0.35" stop-color="#ff4a2c"/><stop offset="0.6" stop-color="#e02c1e"/><stop offset="0.8" stop-color="#8a2018" stop-opacity="0.6"/><stop offset="1" stop-color="#401a18" stop-opacity="0"/></radialGradient>
<radialGradient id="fglow2" cx="0.5" cy="0.5" r="0.5"><stop offset="0" stop-color="#e2b868"/><stop offset="0.6" stop-color="#e6ac60"/><stop offset="0.8" stop-color="#ec6c44"/><stop offset="1" stop-color="#e82a24" stop-opacity="0"/></radialGradient>
<radialGradient id="fglow3" cx="0.5" cy="0.5" r="0.5"><stop offset="0" stop-color="#ff7a58"/><stop offset="0.35" stop-color="#ff5a40"/><stop offset="0.62" stop-color="#f03828"/><stop offset="0.8" stop-color="#b02420" stop-opacity="0.75"/><stop offset="1" stop-color="#2c1212" stop-opacity="0"/></radialGradient>
<radialGradient id="fhole" cx="0.5" cy="0.5" r="0.5"><stop offset="0" stop-color="#1a0404"/><stop offset="0.5" stop-color="#500808"/><stop offset="1" stop-color="#d02020" stop-opacity="0"/></radialGradient>
<radialGradient id="fhole2" cx="0.5" cy="0.5" r="0.5"><stop offset="0" stop-color="#2a0608"/><stop offset="0.75" stop-color="#3a0a10"/><stop offset="1" stop-color="#a01830" stop-opacity="0"/></radialGradient>
<linearGradient id="fel" x1="0" y1="0" x2="1" y2="0"><stop offset="0" stop-color="#e41e3e"/><stop offset="0.15" stop-color="#ee2446"/><stop offset="0.85" stop-color="#f2284a"/><stop offset="1" stop-color="#e82444"/></linearGradient>
<radialGradient id="fdot" cx="0.5" cy="0.5" r="0.5"><stop offset="0" stop-color="#50f050"/><stop offset="0.5" stop-color="#30c030"/><stop offset="1" stop-color="#30a030" stop-opacity="0"/></radialGradient>
<radialGradient id="fgreen" cx="0.5" cy="0.5" r="0.5"><stop offset="0" stop-color="#58b030" stop-opacity="0.8"/><stop offset="1" stop-color="#58b030" stop-opacity="0"/></radialGradient>
<linearGradient id="flaser" x1="0" y1="0" x2="0" y2="1"><stop offset="0" stop-color="#ff2838" stop-opacity="0"/><stop offset="0.5" stop-color="#ff2838"/><stop offset="1" stop-color="#ff2838" stop-opacity="0"/></linearGradient>
<linearGradient id="fcyl" x1="0" y1="0" x2="0" y2="1"><stop offset="0" stop-color="#3a3e38"/><stop offset="0.3" stop-color="#262a26"/><stop offset="0.5" stop-color="#3a3c38"/><stop offset="0.7" stop-color="#222622"/><stop offset="1" stop-color="#303430"/></linearGradient>
</defs>
<text x="222.3" y="616.3" font-family="'Liberation Sans', sans-serif" font-size="17" fill="#000" text-anchor="start" font-weight="bold" font-style="normal" >f</text>
<text x="235.4" y="616.3" font-family="'Liberation Sans', sans-serif" font-size="12.4" fill="#111" text-anchor="start" font-weight="normal" font-style="normal" >Photographs of a red QLED in measurement</text>
<rect x="228" y="629.4" width="444" height="81.1" fill="#000"/>
<rect x="228" y="629.4" width="145.2" height="81.1" fill="url(#fbg)"/>
<rect x="228" y="636" width="21" height="57" rx="3" fill="url(#fcyl)"/>
<rect x="228" y="661" width="22" height="12" fill="url(#flaser)"/>
<rect x="250" y="649.5" width="121.5" height="43" rx="6" fill="url(#fholder)"/>
<ellipse cx="265" cy="670" rx="16" ry="21.5" fill="#3e2624"/>
<circle cx="265" cy="670.6" r="4.2" fill="url(#fdot)"/>
<ellipse cx="311.3" cy="672.1" rx="22" ry="15.5" fill="url(#fglow1)"/>
<circle cx="311.3" cy="673.2" r="2.7" fill="#080202"/>
<ellipse cx="318.5" cy="672.5" rx="2" ry="1" fill="#e0e040"/>
<rect x="294.5" y="650.9" width="40.9" height="40.5" fill="none" stroke="#dcdcdc" stroke-width="1.2" stroke-dasharray="3 2"/>
<text x="299.5" y="641.1" font-family="'Liberation Sans', sans-serif" font-size="10.5" fill="#f2f2f2" text-anchor="middle" font-weight="normal" font-style="normal" >PL excitation region</text>
<text x="298.8" y="705.4" font-family="'Liberation Sans', sans-serif" font-size="8.8" fill="#f2f2f2" text-anchor="middle" font-weight="normal" font-style="normal" >Excitation @ 532 nm</text>
<rect x="389.7" y="629.4" width="82" height="81.1" fill="#e82a24"/>
<ellipse cx="428" cy="669.1" rx="42" ry="26" fill="url(#fglow2)" opacity="0.5"/>
<ellipse cx="428" cy="669.1" rx="30" ry="19.5" fill="url(#fglow2)"/>
<circle cx="429.7" cy="670.8" r="8" fill="#d83028" fill-opacity="0.5"/><circle cx="429.7" cy="670.8" r="6.5" fill="url(#fhole)"/>
<circle cx="446.7" cy="674" r="2.3" fill="#fcfca0"/>
<circle cx="455.7" cy="675.4" r="1.7" fill="#f0f070"/>
<circle cx="465.4" cy="684.1" r="1.7" fill="#e8e060"/>
<circle cx="399" cy="660" r="1.5" fill="#f0b050"/>
<circle cx="407" cy="664" r="1.2" fill="#f0c060"/>
<circle cx="452" cy="661" r="1.2" fill="#f0a050"/>
<text x="429.8" y="642" font-family="'Liberation Sans', sans-serif" font-size="10.6" fill="#fbeeee" text-anchor="middle" font-weight="normal" font-style="normal" >EL &amp; PL</text>
<rect x="489.9" y="629.4" width="80.9" height="81.1" fill="url(#fel)"/>
<circle cx="528.7" cy="671" r="6.3" fill="url(#fhole2)"/>
<rect x="511.8" y="700" width="38.8" height="1.9" fill="#fff"/>
<text x="528.7" y="642" font-family="'Liberation Sans', sans-serif" font-size="10.6" fill="#fbeeee" text-anchor="middle" font-weight="normal" font-style="normal" >EL</text>
<rect x="589.2" y="629.4" width="82.5" height="81.1" fill="#2c1212"/>
<ellipse cx="595.3" cy="665" rx="8" ry="10" fill="url(#fgreen)"/>
<ellipse cx="668" cy="668" rx="5" ry="12" fill="url(#fgreen)" opacity="0.6"/>
<ellipse cx="629" cy="670.5" rx="40" ry="28" fill="url(#fglow3)"/>
<ellipse cx="629.3" cy="671" rx="5.5" ry="5.8" fill="#0e0202"/>
<ellipse cx="643.6" cy="670.7" rx="4" ry="2" fill="#e8f050"/>
<ellipse cx="651.3" cy="673.3" rx="2" ry="1.2" fill="#d8e040"/>
<ellipse cx="610.7" cy="665.2" rx="2.2" ry="1" fill="#d8d040"/>
<text x="631.8" y="642" font-family="'Liberation Sans', sans-serif" font-size="10.6" fill="#fbeeee" text-anchor="middle" font-weight="normal" font-style="normal" >PL</text>
<rect x="389.9" y="629.8" width="282" height="80.2" fill="none" stroke="#ffffff" stroke-width="1.3" stroke-dasharray="3 2"/>
<line x1="671.9" y1="629.8" x2="671.9" y2="710" stroke="#333" stroke-width="1.3" stroke-dasharray="2 3" stroke-dashoffset="3"/>
<line x1="335.4" y1="650.9" x2="387.5" y2="631.5" stroke="#e0e0e0" stroke-width="1" stroke-linecap="butt" stroke-dasharray="2.5 2" />
<line x1="335.4" y1="691.4" x2="387.5" y2="708" stroke="#e0e0e0" stroke-width="1" stroke-linecap="butt" stroke-dasharray="2.5 2" />
<polygon points="390,630.7 384,630.5 386,634.8" fill="#fff"/>
<polygon points="390,708.8 384,709.3 386,704.8" fill="#fff"/>
</g>
</svg></body></html>
